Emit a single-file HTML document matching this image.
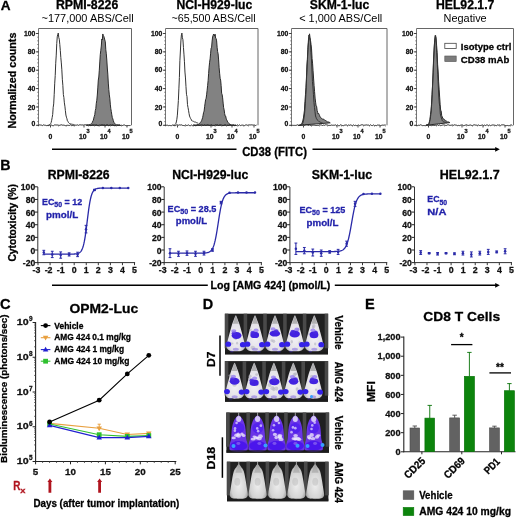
<!DOCTYPE html>
<html><head><meta charset="utf-8"><title>Figure</title>
<style>html,body{margin:0;padding:0;background:#fff;overflow:hidden;width:520px;height:518px;}svg{display:block;}text{font-family:'Liberation Sans', Arial, sans-serif;}</style>
</head><body>
<svg width="520" height="518" viewBox="0 0 520 518">
<rect x="0" y="0" width="520" height="518" fill="#fff"/>
<text x="0.7" y="10.3" font-size="13" font-weight="bold" fill="#000" text-anchor="start" textLength="9.8" lengthAdjust="spacingAndGlyphs" stroke="#000" stroke-width="0.28" >A</text>
<text x="0.3" y="169.5" font-size="14.2" font-weight="bold" fill="#000" text-anchor="start" textLength="10.3" lengthAdjust="spacingAndGlyphs" stroke="#000" stroke-width="0.28" >B</text>
<text x="0.1" y="308.7" font-size="14.4" font-weight="bold" fill="#000" text-anchor="start" textLength="10.6" lengthAdjust="spacingAndGlyphs" stroke="#000" stroke-width="0.28" >C</text>
<text x="202.8" y="308.5" font-size="14.2" font-weight="bold" fill="#000" text-anchor="start" textLength="10.4" lengthAdjust="spacingAndGlyphs" stroke="#000" stroke-width="0.28" >D</text>
<text x="364.9" y="308.7" font-size="14.4" font-weight="bold" fill="#000" text-anchor="start" textLength="9.7" lengthAdjust="spacingAndGlyphs" stroke="#000" stroke-width="0.28" >E</text>
<text x="55.9" y="8.9" font-size="12" font-weight="bold" fill="#000" text-anchor="start" textLength="62.4" lengthAdjust="spacingAndGlyphs" stroke="#000" stroke-width="0.28" >RPMI-8226</text>
<text x="41.5" y="22.4" font-size="11" font-weight="normal" fill="#000" text-anchor="start" textLength="92.2" lengthAdjust="spacingAndGlyphs" >~177,000 ABS/Cell</text>
<text x="176.5" y="8.9" font-size="12" font-weight="bold" fill="#000" text-anchor="start" textLength="75.8" lengthAdjust="spacingAndGlyphs" stroke="#000" stroke-width="0.28" >NCI-H929-luc</text>
<text x="171.5" y="22.4" font-size="11" font-weight="normal" fill="#000" text-anchor="start" textLength="84.1" lengthAdjust="spacingAndGlyphs" >~65,500 ABS/Cell</text>
<text x="309.8" y="8.9" font-size="12" font-weight="bold" fill="#000" text-anchor="start" textLength="59.4" lengthAdjust="spacingAndGlyphs" stroke="#000" stroke-width="0.28" >SKM-1-luc</text>
<text x="299.20000000000005" y="22.4" font-size="11" font-weight="normal" fill="#000" text-anchor="start" textLength="83.1" lengthAdjust="spacingAndGlyphs" >&lt; 1,000 ABS/Cell</text>
<text x="435.90000000000003" y="8.9" font-size="12" font-weight="bold" fill="#000" text-anchor="start" textLength="58.5" lengthAdjust="spacingAndGlyphs" stroke="#000" stroke-width="0.28" >HEL92.1.7</text>
<text x="443.6" y="22.4" font-size="11" font-weight="normal" fill="#000" text-anchor="start" textLength="43.099999999999994" lengthAdjust="spacingAndGlyphs" >Negative</text>
<polyline points="38.5,28.5 131.5,28.5 131.5,125.3" fill="none" stroke="#666" stroke-width="1"/>
<line x1="38.5" y1="28.5" x2="38.5" y2="126.3" stroke="#777" stroke-width="1" />
<line x1="37.2" y1="125.3" x2="38.5" y2="125.3" stroke="#555" stroke-width="0.7" />
<line x1="37.2" y1="121.628" x2="38.5" y2="121.628" stroke="#555" stroke-width="0.7" />
<line x1="37.2" y1="117.956" x2="38.5" y2="117.956" stroke="#555" stroke-width="0.7" />
<line x1="37.2" y1="114.28399999999999" x2="38.5" y2="114.28399999999999" stroke="#555" stroke-width="0.7" />
<line x1="37.2" y1="110.612" x2="38.5" y2="110.612" stroke="#555" stroke-width="0.7" />
<line x1="37.2" y1="106.94" x2="38.5" y2="106.94" stroke="#555" stroke-width="0.7" />
<line x1="37.2" y1="103.268" x2="38.5" y2="103.268" stroke="#555" stroke-width="0.7" />
<line x1="37.2" y1="99.596" x2="38.5" y2="99.596" stroke="#555" stroke-width="0.7" />
<line x1="37.2" y1="95.924" x2="38.5" y2="95.924" stroke="#555" stroke-width="0.7" />
<line x1="37.2" y1="92.25200000000001" x2="38.5" y2="92.25200000000001" stroke="#555" stroke-width="0.7" />
<line x1="37.2" y1="88.58" x2="38.5" y2="88.58" stroke="#555" stroke-width="0.7" />
<line x1="37.2" y1="84.908" x2="38.5" y2="84.908" stroke="#555" stroke-width="0.7" />
<line x1="37.2" y1="81.236" x2="38.5" y2="81.236" stroke="#555" stroke-width="0.7" />
<line x1="37.2" y1="77.564" x2="38.5" y2="77.564" stroke="#555" stroke-width="0.7" />
<line x1="37.2" y1="73.892" x2="38.5" y2="73.892" stroke="#555" stroke-width="0.7" />
<line x1="37.2" y1="70.22" x2="38.5" y2="70.22" stroke="#555" stroke-width="0.7" />
<line x1="37.2" y1="66.548" x2="38.5" y2="66.548" stroke="#555" stroke-width="0.7" />
<line x1="37.2" y1="62.876" x2="38.5" y2="62.876" stroke="#555" stroke-width="0.7" />
<line x1="37.2" y1="59.20400000000001" x2="38.5" y2="59.20400000000001" stroke="#555" stroke-width="0.7" />
<line x1="37.2" y1="55.532" x2="38.5" y2="55.532" stroke="#555" stroke-width="0.7" />
<line x1="37.2" y1="51.86" x2="38.5" y2="51.86" stroke="#555" stroke-width="0.7" />
<line x1="37.2" y1="48.188" x2="38.5" y2="48.188" stroke="#555" stroke-width="0.7" />
<line x1="37.2" y1="44.516000000000005" x2="38.5" y2="44.516000000000005" stroke="#555" stroke-width="0.7" />
<line x1="37.2" y1="40.843999999999994" x2="38.5" y2="40.843999999999994" stroke="#555" stroke-width="0.7" />
<line x1="37.2" y1="37.17200000000001" x2="38.5" y2="37.17200000000001" stroke="#555" stroke-width="0.7" />
<line x1="37.2" y1="33.5" x2="38.5" y2="33.5" stroke="#555" stroke-width="0.7" />
<line x1="35.9" y1="125.3" x2="38.5" y2="125.3" stroke="#333" stroke-width="0.9" />
<text x="35.3" y="125.5" font-size="6.8" font-weight="bold" fill="#111" text-anchor="end" stroke="#111" stroke-width="0.28" >0</text>
<line x1="35.9" y1="106.94" x2="38.5" y2="106.94" stroke="#333" stroke-width="0.9" />
<text x="35.3" y="109.9" font-size="6.8" font-weight="bold" fill="#111" text-anchor="end" stroke="#111" stroke-width="0.28" >20</text>
<line x1="35.9" y1="88.58" x2="38.5" y2="88.58" stroke="#333" stroke-width="0.9" />
<text x="35.3" y="91.10000000000001" font-size="6.8" font-weight="bold" fill="#111" text-anchor="end" stroke="#111" stroke-width="0.28" >40</text>
<line x1="35.9" y1="70.22" x2="38.5" y2="70.22" stroke="#333" stroke-width="0.9" />
<text x="35.3" y="71.9" font-size="6.8" font-weight="bold" fill="#111" text-anchor="end" stroke="#111" stroke-width="0.28" >60</text>
<line x1="35.9" y1="51.86" x2="38.5" y2="51.86" stroke="#333" stroke-width="0.9" />
<text x="35.3" y="53.9" font-size="6.8" font-weight="bold" fill="#111" text-anchor="end" stroke="#111" stroke-width="0.28" >80</text>
<line x1="35.9" y1="33.5" x2="38.5" y2="33.5" stroke="#333" stroke-width="0.9" />
<text x="35.3" y="36.0" font-size="6.8" font-weight="bold" fill="#111" text-anchor="end" stroke="#111" stroke-width="0.28" >100</text>
<polygon points="86.30,125.27 86.80,125.25 87.30,125.22 87.80,125.18 88.30,125.12 88.80,125.04 89.30,124.91 89.80,124.73 90.30,124.48 90.80,124.14 91.30,123.68 91.80,123.14 92.30,122.46 92.80,121.07 93.30,120.31 93.80,118.11 94.30,116.33 94.80,114.60 95.30,110.53 95.80,108.70 96.30,103.23 96.80,100.28 97.30,95.04 97.80,87.90 98.30,80.06 98.80,77.02 99.30,70.17 99.80,61.95 100.30,54.35 100.80,50.32 101.30,46.04 101.80,39.06 102.30,39.97 102.80,33.97 103.30,35.48 103.80,36.31 104.30,37.97 104.80,39.97 105.30,41.72 105.80,49.73 106.30,53.79 106.80,60.00 107.30,68.01 107.80,74.08 108.30,83.07 108.80,89.54 109.30,94.89 109.80,98.18 110.30,104.19 110.80,108.75 111.30,111.49 111.80,114.84 112.30,117.54 112.80,118.85 113.30,120.60 113.80,122.17 114.30,122.89 114.80,123.62 115.30,124.13 115.80,124.50 116.30,124.76 116.80,124.94 117.30,125.06 117.80,125.15 118.30,125.20 118.80,125.24 119.30,125.26 119.80,125.28 120.30,125.29" fill="#828282" stroke="#2a2a2a" stroke-width="1.0"/>
<polyline points="47.60,125.27 48.11,125.23 48.62,125.17 49.12,125.03 49.63,124.79 50.14,124.36 50.65,123.63 51.16,122.44 51.67,120.27 52.17,117.57 52.68,114.55 53.19,107.29 53.70,103.91 54.21,94.30 54.72,83.18 55.22,75.49 55.73,63.21 56.24,55.12 56.75,43.57 57.26,36.83 57.77,34.45 58.27,33.07 58.78,37.56 59.29,39.23 59.80,44.44 60.31,50.34 60.82,57.55 61.32,62.93 61.83,69.80 62.34,79.23 62.85,85.32 63.36,94.55 63.87,97.43 64.37,102.84 64.88,106.16 65.39,110.67 65.90,115.03 66.41,117.17 66.92,118.66 67.42,120.81 67.93,121.47 68.44,122.47 68.95,123.06 69.46,123.49 69.97,123.63 70.47,123.87 70.98,124.04 71.49,124.17 72.00,124.27 72.51,124.35 73.02,124.42 73.52,124.48 74.03,124.53 74.54,124.57" fill="none" stroke="#333" stroke-width="1.0"/>
<polyline points="38.50,125.49 39.50,124.92 40.50,125.02 41.50,125.15 42.50,125.58 43.50,124.87 44.50,125.20 45.50,125.29 46.50,125.60 47.50,125.54 48.50,125.58 49.50,125.05 50.50,125.17 51.50,125.12 52.50,125.60 53.50,125.66 54.50,124.94 55.50,124.96 56.50,125.01 57.50,125.01 58.50,125.24 59.50,125.33 60.50,125.04 61.50,124.80 62.50,125.18 63.50,125.13 64.50,125.31 65.50,125.66 66.50,125.42 67.50,125.26 68.50,125.36 69.50,125.41 70.50,124.85 71.50,125.61 72.50,125.50 73.50,125.59 74.50,125.52 75.50,125.15 76.50,125.16 77.50,124.89 78.50,125.37 79.50,124.86 80.50,124.86 81.50,124.99 82.50,124.95 83.50,125.11 84.50,124.85 85.50,124.80 86.50,124.94 87.50,124.89 88.50,125.13 89.50,124.82 90.50,125.59 91.50,125.35 92.50,124.93 93.50,125.03 94.50,125.11 95.50,125.13 96.50,124.91 97.50,125.56 98.50,125.69 99.50,125.22 100.50,125.24 101.50,124.88 102.50,124.89 103.50,125.11 104.50,125.04 105.50,125.55 106.50,124.95 107.50,124.82 108.50,125.66 109.50,125.28 110.50,124.93 111.50,125.29 112.50,124.82 113.50,125.28 114.50,125.68 115.50,125.58 116.50,125.43 117.50,125.04 118.50,125.13 119.50,124.95 120.50,125.49 121.50,125.28 122.50,125.50 123.50,125.10 124.50,125.00 125.50,125.53 126.50,125.69 127.50,125.57 128.50,125.53 129.50,125.54 130.50,125.47" fill="none" stroke="#222" stroke-width="1"/>
<line x1="50.5" y1="125.3" x2="50.5" y2="127.5" stroke="#333" stroke-width="0.9" />
<line x1="84.0" y1="125.3" x2="84.0" y2="127.5" stroke="#333" stroke-width="0.9" />
<line x1="105.0" y1="125.3" x2="105.0" y2="127.5" stroke="#333" stroke-width="0.9" />
<line x1="127.0" y1="125.3" x2="127.0" y2="127.5" stroke="#333" stroke-width="0.9" />
<line x1="58.5" y1="125.3" x2="58.5" y2="126.5" stroke="#666" stroke-width="0.7" />
<line x1="66.5" y1="125.3" x2="66.5" y2="126.5" stroke="#666" stroke-width="0.7" />
<line x1="74.5" y1="125.3" x2="74.5" y2="126.5" stroke="#666" stroke-width="0.7" />
<line x1="88.5" y1="125.3" x2="88.5" y2="126.5" stroke="#666" stroke-width="0.7" />
<line x1="94.5" y1="125.3" x2="94.5" y2="126.5" stroke="#666" stroke-width="0.7" />
<line x1="99.5" y1="125.3" x2="99.5" y2="126.5" stroke="#666" stroke-width="0.7" />
<line x1="110.5" y1="125.3" x2="110.5" y2="126.5" stroke="#666" stroke-width="0.7" />
<line x1="116.5" y1="125.3" x2="116.5" y2="126.5" stroke="#666" stroke-width="0.7" />
<line x1="121.5" y1="125.3" x2="121.5" y2="126.5" stroke="#666" stroke-width="0.7" />
<text x="50.5" y="138.6" font-size="6.8" font-weight="bold" fill="#111" text-anchor="middle" stroke="#111" stroke-width="0.28" >0</text>
<text x="79.1" y="139.2" font-size="6.8" font-weight="bold" fill="#111" text-anchor="start" stroke="#111" stroke-width="0.28" >10</text>
<text x="86.5" y="133.0" font-size="5.6" font-weight="bold" fill="#111" text-anchor="start" stroke="#111" stroke-width="0.28" >3</text>
<text x="100.1" y="139.2" font-size="6.8" font-weight="bold" fill="#111" text-anchor="start" stroke="#111" stroke-width="0.28" >10</text>
<text x="107.5" y="133.0" font-size="5.6" font-weight="bold" fill="#111" text-anchor="start" stroke="#111" stroke-width="0.28" >4</text>
<text x="122.1" y="139.2" font-size="6.8" font-weight="bold" fill="#111" text-anchor="start" stroke="#111" stroke-width="0.28" >10</text>
<text x="129.5" y="133.0" font-size="5.6" font-weight="bold" fill="#111" text-anchor="start" stroke="#111" stroke-width="0.28" >5</text>
<polyline points="165.5,28.5 258.0,28.5 258.0,125.3" fill="none" stroke="#666" stroke-width="1"/>
<line x1="165.5" y1="28.5" x2="165.5" y2="126.3" stroke="#777" stroke-width="1" />
<line x1="164.2" y1="125.3" x2="165.5" y2="125.3" stroke="#555" stroke-width="0.7" />
<line x1="164.2" y1="121.628" x2="165.5" y2="121.628" stroke="#555" stroke-width="0.7" />
<line x1="164.2" y1="117.956" x2="165.5" y2="117.956" stroke="#555" stroke-width="0.7" />
<line x1="164.2" y1="114.28399999999999" x2="165.5" y2="114.28399999999999" stroke="#555" stroke-width="0.7" />
<line x1="164.2" y1="110.612" x2="165.5" y2="110.612" stroke="#555" stroke-width="0.7" />
<line x1="164.2" y1="106.94" x2="165.5" y2="106.94" stroke="#555" stroke-width="0.7" />
<line x1="164.2" y1="103.268" x2="165.5" y2="103.268" stroke="#555" stroke-width="0.7" />
<line x1="164.2" y1="99.596" x2="165.5" y2="99.596" stroke="#555" stroke-width="0.7" />
<line x1="164.2" y1="95.924" x2="165.5" y2="95.924" stroke="#555" stroke-width="0.7" />
<line x1="164.2" y1="92.25200000000001" x2="165.5" y2="92.25200000000001" stroke="#555" stroke-width="0.7" />
<line x1="164.2" y1="88.58" x2="165.5" y2="88.58" stroke="#555" stroke-width="0.7" />
<line x1="164.2" y1="84.908" x2="165.5" y2="84.908" stroke="#555" stroke-width="0.7" />
<line x1="164.2" y1="81.236" x2="165.5" y2="81.236" stroke="#555" stroke-width="0.7" />
<line x1="164.2" y1="77.564" x2="165.5" y2="77.564" stroke="#555" stroke-width="0.7" />
<line x1="164.2" y1="73.892" x2="165.5" y2="73.892" stroke="#555" stroke-width="0.7" />
<line x1="164.2" y1="70.22" x2="165.5" y2="70.22" stroke="#555" stroke-width="0.7" />
<line x1="164.2" y1="66.548" x2="165.5" y2="66.548" stroke="#555" stroke-width="0.7" />
<line x1="164.2" y1="62.876" x2="165.5" y2="62.876" stroke="#555" stroke-width="0.7" />
<line x1="164.2" y1="59.20400000000001" x2="165.5" y2="59.20400000000001" stroke="#555" stroke-width="0.7" />
<line x1="164.2" y1="55.532" x2="165.5" y2="55.532" stroke="#555" stroke-width="0.7" />
<line x1="164.2" y1="51.86" x2="165.5" y2="51.86" stroke="#555" stroke-width="0.7" />
<line x1="164.2" y1="48.188" x2="165.5" y2="48.188" stroke="#555" stroke-width="0.7" />
<line x1="164.2" y1="44.516000000000005" x2="165.5" y2="44.516000000000005" stroke="#555" stroke-width="0.7" />
<line x1="164.2" y1="40.843999999999994" x2="165.5" y2="40.843999999999994" stroke="#555" stroke-width="0.7" />
<line x1="164.2" y1="37.17200000000001" x2="165.5" y2="37.17200000000001" stroke="#555" stroke-width="0.7" />
<line x1="164.2" y1="33.5" x2="165.5" y2="33.5" stroke="#555" stroke-width="0.7" />
<line x1="162.9" y1="125.3" x2="165.5" y2="125.3" stroke="#333" stroke-width="0.9" />
<text x="162.3" y="125.5" font-size="6.8" font-weight="bold" fill="#111" text-anchor="end" stroke="#111" stroke-width="0.28" >0</text>
<line x1="162.9" y1="106.94" x2="165.5" y2="106.94" stroke="#333" stroke-width="0.9" />
<text x="162.3" y="109.9" font-size="6.8" font-weight="bold" fill="#111" text-anchor="end" stroke="#111" stroke-width="0.28" >20</text>
<line x1="162.9" y1="88.58" x2="165.5" y2="88.58" stroke="#333" stroke-width="0.9" />
<text x="162.3" y="91.10000000000001" font-size="6.8" font-weight="bold" fill="#111" text-anchor="end" stroke="#111" stroke-width="0.28" >40</text>
<line x1="162.9" y1="70.22" x2="165.5" y2="70.22" stroke="#333" stroke-width="0.9" />
<text x="162.3" y="71.9" font-size="6.8" font-weight="bold" fill="#111" text-anchor="end" stroke="#111" stroke-width="0.28" >60</text>
<line x1="162.9" y1="51.86" x2="165.5" y2="51.86" stroke="#333" stroke-width="0.9" />
<text x="162.3" y="53.9" font-size="6.8" font-weight="bold" fill="#111" text-anchor="end" stroke="#111" stroke-width="0.28" >80</text>
<line x1="162.9" y1="33.5" x2="165.5" y2="33.5" stroke="#333" stroke-width="0.9" />
<text x="162.3" y="36.0" font-size="6.8" font-weight="bold" fill="#111" text-anchor="end" stroke="#111" stroke-width="0.28" >100</text>
<polygon points="193.10,125.27 193.60,125.26 194.10,125.24 194.60,125.21 195.10,125.17 195.60,125.12 196.10,125.05 196.60,124.96 197.10,124.83 197.60,124.66 198.10,124.45 198.61,124.17 199.11,123.81 199.61,123.46 200.11,122.77 200.61,122.16 201.11,121.58 201.61,120.62 202.11,119.14 202.61,117.71 203.11,115.14 203.61,112.33 204.11,111.14 204.61,106.72 205.11,103.11 205.61,99.50 206.11,98.37 206.61,94.84 207.11,90.31 207.61,85.69 208.11,80.67 208.61,73.61 209.11,67.15 209.62,62.24 210.12,58.85 210.62,53.22 211.12,48.04 211.62,47.25 212.12,41.07 212.62,37.00 213.12,35.35 213.62,34.02 214.12,34.57 214.62,36.07 215.12,34.22 215.62,38.07 216.12,38.44 216.62,40.88 217.12,47.34 217.62,51.65 218.12,53.89 218.62,59.95 219.12,67.72 219.62,73.21 220.13,78.37 220.63,80.08 221.13,85.50 221.63,93.24 222.13,94.53 222.63,97.88 223.13,103.11 223.63,107.66 224.13,109.92 224.63,113.60 225.13,115.92 225.63,116.04 226.13,118.26 226.63,119.81 227.13,120.60 227.63,121.95 228.13,122.46 228.63,123.13 229.13,123.75 229.63,124.12 230.13,124.42 230.63,124.65 231.14,124.82 231.64,124.95 232.14,125.05 232.64,125.12 233.14,125.17 233.64,125.21 234.14,125.24 234.64,125.26 235.14,125.27 235.64,125.28 236.14,125.29" fill="#828282" stroke="#2a2a2a" stroke-width="1.0"/>
<polyline points="173.30,125.27 173.81,125.22 174.31,125.11 174.82,124.88 175.33,124.39 175.83,123.57 176.34,121.97 176.85,119.26 177.36,115.16 177.86,107.89 178.37,100.57 178.88,88.87 179.38,77.54 179.89,60.73 180.40,51.00 180.90,40.91 181.41,34.89 181.92,33.07 182.42,37.79 182.93,39.76 183.44,47.41 183.95,54.14 184.45,61.79 184.96,72.04 185.47,77.96 185.97,86.61 186.48,94.25 186.99,96.62 187.49,104.60 188.00,107.51 188.51,110.22 189.02,113.46 189.52,116.02 190.03,117.26 190.54,118.41 191.04,119.05 191.55,120.47 192.06,120.52 192.56,121.20 193.07,121.48 193.58,121.38 194.08,121.81 194.59,121.98 195.10,122.05 195.61,122.15 196.11,122.58 196.62,122.64 197.13,122.84 197.63,122.97 198.14,123.02" fill="none" stroke="#333" stroke-width="1.0"/>
<polyline points="165.50,125.21 166.50,125.28 167.50,125.23 168.50,125.65 169.50,125.43 170.50,125.59 171.50,125.65 172.50,125.03 173.50,125.30 174.50,125.65 175.50,125.56 176.50,124.92 177.50,124.91 178.50,125.20 179.50,124.87 180.50,125.02 181.50,124.87 182.50,125.40 183.50,125.51 184.50,125.61 185.50,124.94 186.50,125.44 187.50,125.39 188.50,124.93 189.50,125.59 190.50,125.67 191.50,125.00 192.50,125.66 193.50,125.16 194.50,125.24 195.50,125.69 196.50,125.55 197.50,124.95 198.50,125.19 199.50,125.26 200.50,125.11 201.50,124.98 202.50,125.09 203.50,125.45 204.50,124.82 205.50,125.30 206.50,125.20 207.50,124.82 208.50,125.10 209.50,125.36 210.50,125.26 211.50,124.86 212.50,125.69 213.50,125.51 214.50,125.67 215.50,124.89 216.50,125.04 217.50,124.84 218.50,125.50 219.50,125.04 220.50,124.92 221.50,125.18 222.50,125.62 223.50,125.54 224.50,125.03 225.50,124.93 226.50,125.63 227.50,125.31 228.50,125.43 229.50,124.88 230.50,124.85 231.50,125.42 232.50,125.18 233.50,124.87 234.50,125.64 235.50,125.37 236.50,125.52 237.50,124.88 238.50,125.57 239.50,124.86 240.50,125.58 241.50,125.21 242.50,125.11 243.50,125.30 244.50,125.63 245.50,125.04 246.50,124.92 247.50,125.27 248.50,125.01 249.50,124.90 250.50,124.95 251.50,124.85 252.50,124.98 253.50,125.08 254.50,125.07 255.50,125.48 256.50,125.06" fill="none" stroke="#222" stroke-width="1"/>
<line x1="177.5" y1="125.3" x2="177.5" y2="127.5" stroke="#333" stroke-width="0.9" />
<line x1="211.0" y1="125.3" x2="211.0" y2="127.5" stroke="#333" stroke-width="0.9" />
<line x1="232.0" y1="125.3" x2="232.0" y2="127.5" stroke="#333" stroke-width="0.9" />
<line x1="254.0" y1="125.3" x2="254.0" y2="127.5" stroke="#333" stroke-width="0.9" />
<line x1="185.5" y1="125.3" x2="185.5" y2="126.5" stroke="#666" stroke-width="0.7" />
<line x1="193.5" y1="125.3" x2="193.5" y2="126.5" stroke="#666" stroke-width="0.7" />
<line x1="201.5" y1="125.3" x2="201.5" y2="126.5" stroke="#666" stroke-width="0.7" />
<line x1="215.5" y1="125.3" x2="215.5" y2="126.5" stroke="#666" stroke-width="0.7" />
<line x1="221.5" y1="125.3" x2="221.5" y2="126.5" stroke="#666" stroke-width="0.7" />
<line x1="226.5" y1="125.3" x2="226.5" y2="126.5" stroke="#666" stroke-width="0.7" />
<line x1="237.5" y1="125.3" x2="237.5" y2="126.5" stroke="#666" stroke-width="0.7" />
<line x1="243.5" y1="125.3" x2="243.5" y2="126.5" stroke="#666" stroke-width="0.7" />
<line x1="248.5" y1="125.3" x2="248.5" y2="126.5" stroke="#666" stroke-width="0.7" />
<text x="177.5" y="138.6" font-size="6.8" font-weight="bold" fill="#111" text-anchor="middle" stroke="#111" stroke-width="0.28" >0</text>
<text x="206.1" y="139.2" font-size="6.8" font-weight="bold" fill="#111" text-anchor="start" stroke="#111" stroke-width="0.28" >10</text>
<text x="213.5" y="133.0" font-size="5.6" font-weight="bold" fill="#111" text-anchor="start" stroke="#111" stroke-width="0.28" >3</text>
<text x="227.1" y="139.2" font-size="6.8" font-weight="bold" fill="#111" text-anchor="start" stroke="#111" stroke-width="0.28" >10</text>
<text x="234.5" y="133.0" font-size="5.6" font-weight="bold" fill="#111" text-anchor="start" stroke="#111" stroke-width="0.28" >4</text>
<text x="249.1" y="139.2" font-size="6.8" font-weight="bold" fill="#111" text-anchor="start" stroke="#111" stroke-width="0.28" >10</text>
<text x="256.5" y="133.0" font-size="5.6" font-weight="bold" fill="#111" text-anchor="start" stroke="#111" stroke-width="0.28" >5</text>
<polyline points="291.5,28.5 387.0,28.5 387.0,125.3" fill="none" stroke="#666" stroke-width="1"/>
<line x1="291.5" y1="28.5" x2="291.5" y2="126.3" stroke="#777" stroke-width="1" />
<line x1="290.2" y1="125.3" x2="291.5" y2="125.3" stroke="#555" stroke-width="0.7" />
<line x1="290.2" y1="121.628" x2="291.5" y2="121.628" stroke="#555" stroke-width="0.7" />
<line x1="290.2" y1="117.956" x2="291.5" y2="117.956" stroke="#555" stroke-width="0.7" />
<line x1="290.2" y1="114.28399999999999" x2="291.5" y2="114.28399999999999" stroke="#555" stroke-width="0.7" />
<line x1="290.2" y1="110.612" x2="291.5" y2="110.612" stroke="#555" stroke-width="0.7" />
<line x1="290.2" y1="106.94" x2="291.5" y2="106.94" stroke="#555" stroke-width="0.7" />
<line x1="290.2" y1="103.268" x2="291.5" y2="103.268" stroke="#555" stroke-width="0.7" />
<line x1="290.2" y1="99.596" x2="291.5" y2="99.596" stroke="#555" stroke-width="0.7" />
<line x1="290.2" y1="95.924" x2="291.5" y2="95.924" stroke="#555" stroke-width="0.7" />
<line x1="290.2" y1="92.25200000000001" x2="291.5" y2="92.25200000000001" stroke="#555" stroke-width="0.7" />
<line x1="290.2" y1="88.58" x2="291.5" y2="88.58" stroke="#555" stroke-width="0.7" />
<line x1="290.2" y1="84.908" x2="291.5" y2="84.908" stroke="#555" stroke-width="0.7" />
<line x1="290.2" y1="81.236" x2="291.5" y2="81.236" stroke="#555" stroke-width="0.7" />
<line x1="290.2" y1="77.564" x2="291.5" y2="77.564" stroke="#555" stroke-width="0.7" />
<line x1="290.2" y1="73.892" x2="291.5" y2="73.892" stroke="#555" stroke-width="0.7" />
<line x1="290.2" y1="70.22" x2="291.5" y2="70.22" stroke="#555" stroke-width="0.7" />
<line x1="290.2" y1="66.548" x2="291.5" y2="66.548" stroke="#555" stroke-width="0.7" />
<line x1="290.2" y1="62.876" x2="291.5" y2="62.876" stroke="#555" stroke-width="0.7" />
<line x1="290.2" y1="59.20400000000001" x2="291.5" y2="59.20400000000001" stroke="#555" stroke-width="0.7" />
<line x1="290.2" y1="55.532" x2="291.5" y2="55.532" stroke="#555" stroke-width="0.7" />
<line x1="290.2" y1="51.86" x2="291.5" y2="51.86" stroke="#555" stroke-width="0.7" />
<line x1="290.2" y1="48.188" x2="291.5" y2="48.188" stroke="#555" stroke-width="0.7" />
<line x1="290.2" y1="44.516000000000005" x2="291.5" y2="44.516000000000005" stroke="#555" stroke-width="0.7" />
<line x1="290.2" y1="40.843999999999994" x2="291.5" y2="40.843999999999994" stroke="#555" stroke-width="0.7" />
<line x1="290.2" y1="37.17200000000001" x2="291.5" y2="37.17200000000001" stroke="#555" stroke-width="0.7" />
<line x1="290.2" y1="33.5" x2="291.5" y2="33.5" stroke="#555" stroke-width="0.7" />
<line x1="288.9" y1="125.3" x2="291.5" y2="125.3" stroke="#333" stroke-width="0.9" />
<text x="288.3" y="125.5" font-size="6.8" font-weight="bold" fill="#111" text-anchor="end" stroke="#111" stroke-width="0.28" >0</text>
<line x1="288.9" y1="106.94" x2="291.5" y2="106.94" stroke="#333" stroke-width="0.9" />
<text x="288.3" y="109.9" font-size="6.8" font-weight="bold" fill="#111" text-anchor="end" stroke="#111" stroke-width="0.28" >20</text>
<line x1="288.9" y1="88.58" x2="291.5" y2="88.58" stroke="#333" stroke-width="0.9" />
<text x="288.3" y="91.10000000000001" font-size="6.8" font-weight="bold" fill="#111" text-anchor="end" stroke="#111" stroke-width="0.28" >40</text>
<line x1="288.9" y1="70.22" x2="291.5" y2="70.22" stroke="#333" stroke-width="0.9" />
<text x="288.3" y="71.9" font-size="6.8" font-weight="bold" fill="#111" text-anchor="end" stroke="#111" stroke-width="0.28" >60</text>
<line x1="288.9" y1="51.86" x2="291.5" y2="51.86" stroke="#333" stroke-width="0.9" />
<text x="288.3" y="53.9" font-size="6.8" font-weight="bold" fill="#111" text-anchor="end" stroke="#111" stroke-width="0.28" >80</text>
<line x1="288.9" y1="33.5" x2="291.5" y2="33.5" stroke="#333" stroke-width="0.9" />
<text x="288.3" y="36.0" font-size="6.8" font-weight="bold" fill="#111" text-anchor="end" stroke="#111" stroke-width="0.28" >100</text>
<polygon points="298.40,125.27 298.91,125.24 299.41,125.18 299.92,125.07 300.42,124.88 300.93,124.56 301.43,124.02 301.94,123.17 302.44,122.09 302.95,120.11 303.45,117.99 303.96,114.06 304.46,110.19 304.97,101.30 305.48,94.66 305.98,87.70 306.49,76.94 306.99,65.01 307.50,59.25 308.00,47.38 308.51,42.24 309.01,37.31 309.52,33.84 310.02,37.62 310.53,40.56 311.03,44.48 311.54,48.93 312.05,58.43 312.55,63.17 313.06,70.83 313.56,78.04 314.07,85.54 314.57,91.64 315.08,98.11 315.58,102.15 316.09,105.94 316.59,106.24 317.10,110.30 317.61,112.39 318.11,114.01 318.62,113.44 319.12,114.43 319.63,115.66 320.13,117.02 320.64,117.64 321.14,118.03 321.65,118.23 322.15,119.04 322.66,119.03 323.16,119.60 323.67,119.12 324.18,119.45 324.68,120.20 325.19,120.77 325.69,120.36 326.20,121.19 326.70,121.38 327.21,121.87 327.71,121.78 328.22,121.91 328.72,122.07 329.23,122.43 329.73,122.42 330.24,122.85" fill="#828282" stroke="#2a2a2a" stroke-width="1.0"/>
<polyline points="299.70,125.27 300.21,125.23 300.72,125.15 301.23,124.99 301.74,124.67 302.25,124.10 302.76,123.22 303.27,121.80 303.77,119.07 304.28,116.10 304.79,111.34 305.30,103.71 305.81,95.24 306.32,83.26 306.83,72.18 307.34,59.70 307.85,49.63 308.36,41.01 308.87,35.04 309.38,35.97 309.89,38.81 310.40,41.08 310.91,52.45 311.41,58.86 311.92,69.00 312.43,81.47 312.94,86.89 313.45,94.57 313.96,102.43 314.47,107.47 314.98,111.46 315.49,115.94 316.00,117.27 316.51,118.75 317.02,119.38 317.53,120.15 318.04,120.65 318.55,121.23 319.05,121.29 319.56,121.69 320.07,121.90 320.58,122.38 321.09,122.66 321.60,122.75 322.11,122.77 322.62,123.04" fill="none" stroke="#333" stroke-width="1.0"/>
<polyline points="291.50,125.55 292.50,125.30 293.50,125.36 294.50,125.36 295.50,125.41 296.50,125.24 297.50,124.80 298.50,125.52 299.50,125.47 300.50,125.25 301.50,125.28 302.50,125.39 303.50,124.86 304.50,125.46 305.50,125.03 306.50,124.87 307.50,125.04 308.50,125.46 309.50,124.98 310.50,125.47 311.50,125.68 312.50,125.24 313.50,125.14 314.50,125.23 315.50,125.42 316.50,125.49 317.50,125.36 318.50,125.38 319.50,124.87 320.50,124.93 321.50,125.03 322.50,125.47 323.50,125.07 324.50,125.31 325.50,124.81 326.50,124.85 327.50,125.04 328.50,125.40 329.50,125.42 330.50,125.41 331.50,125.06 332.50,125.26 333.50,125.22 334.50,125.22 335.50,124.91 336.50,125.60 337.50,124.98 338.50,125.68 339.50,125.64 340.50,124.82 341.50,125.21 342.50,125.54 343.50,125.67 344.50,125.20 345.50,125.04 346.50,124.99 347.50,125.65 348.50,124.99 349.50,125.32 350.50,124.93 351.50,125.27 352.50,125.66 353.50,124.92 354.50,125.54 355.50,125.26 356.50,125.60 357.50,125.43 358.50,125.01 359.50,125.61 360.50,125.24 361.50,124.82 362.50,124.80 363.50,125.24 364.50,125.21 365.50,125.07 366.50,124.93 367.50,125.11 368.50,125.08 369.50,125.56 370.50,124.80 371.50,125.48 372.50,125.56 373.50,124.91 374.50,125.63 375.50,125.44 376.50,125.61 377.50,125.06 378.50,125.13 379.50,125.15 380.50,125.70 381.50,125.33 382.50,125.12 383.50,125.19 384.50,125.05 385.50,124.84" fill="none" stroke="#222" stroke-width="1"/>
<line x1="303.5" y1="125.3" x2="303.5" y2="127.5" stroke="#333" stroke-width="0.9" />
<line x1="337.0" y1="125.3" x2="337.0" y2="127.5" stroke="#333" stroke-width="0.9" />
<line x1="358.0" y1="125.3" x2="358.0" y2="127.5" stroke="#333" stroke-width="0.9" />
<line x1="380.0" y1="125.3" x2="380.0" y2="127.5" stroke="#333" stroke-width="0.9" />
<line x1="311.5" y1="125.3" x2="311.5" y2="126.5" stroke="#666" stroke-width="0.7" />
<line x1="319.5" y1="125.3" x2="319.5" y2="126.5" stroke="#666" stroke-width="0.7" />
<line x1="327.5" y1="125.3" x2="327.5" y2="126.5" stroke="#666" stroke-width="0.7" />
<line x1="341.5" y1="125.3" x2="341.5" y2="126.5" stroke="#666" stroke-width="0.7" />
<line x1="347.5" y1="125.3" x2="347.5" y2="126.5" stroke="#666" stroke-width="0.7" />
<line x1="352.5" y1="125.3" x2="352.5" y2="126.5" stroke="#666" stroke-width="0.7" />
<line x1="363.5" y1="125.3" x2="363.5" y2="126.5" stroke="#666" stroke-width="0.7" />
<line x1="369.5" y1="125.3" x2="369.5" y2="126.5" stroke="#666" stroke-width="0.7" />
<line x1="374.5" y1="125.3" x2="374.5" y2="126.5" stroke="#666" stroke-width="0.7" />
<line x1="385.5" y1="125.3" x2="385.5" y2="126.5" stroke="#666" stroke-width="0.7" />
<text x="303.5" y="138.6" font-size="6.8" font-weight="bold" fill="#111" text-anchor="middle" stroke="#111" stroke-width="0.28" >0</text>
<text x="332.1" y="139.2" font-size="6.8" font-weight="bold" fill="#111" text-anchor="start" stroke="#111" stroke-width="0.28" >10</text>
<text x="339.5" y="133.0" font-size="5.6" font-weight="bold" fill="#111" text-anchor="start" stroke="#111" stroke-width="0.28" >3</text>
<text x="353.1" y="139.2" font-size="6.8" font-weight="bold" fill="#111" text-anchor="start" stroke="#111" stroke-width="0.28" >10</text>
<text x="360.5" y="133.0" font-size="5.6" font-weight="bold" fill="#111" text-anchor="start" stroke="#111" stroke-width="0.28" >4</text>
<text x="375.1" y="139.2" font-size="6.8" font-weight="bold" fill="#111" text-anchor="start" stroke="#111" stroke-width="0.28" >10</text>
<text x="382.5" y="133.0" font-size="5.6" font-weight="bold" fill="#111" text-anchor="start" stroke="#111" stroke-width="0.28" >5</text>
<polyline points="416.5,28.5 513.5,28.5 513.5,125.3" fill="none" stroke="#666" stroke-width="1"/>
<line x1="416.5" y1="28.5" x2="416.5" y2="126.3" stroke="#777" stroke-width="1" />
<line x1="415.2" y1="125.3" x2="416.5" y2="125.3" stroke="#555" stroke-width="0.7" />
<line x1="415.2" y1="121.628" x2="416.5" y2="121.628" stroke="#555" stroke-width="0.7" />
<line x1="415.2" y1="117.956" x2="416.5" y2="117.956" stroke="#555" stroke-width="0.7" />
<line x1="415.2" y1="114.28399999999999" x2="416.5" y2="114.28399999999999" stroke="#555" stroke-width="0.7" />
<line x1="415.2" y1="110.612" x2="416.5" y2="110.612" stroke="#555" stroke-width="0.7" />
<line x1="415.2" y1="106.94" x2="416.5" y2="106.94" stroke="#555" stroke-width="0.7" />
<line x1="415.2" y1="103.268" x2="416.5" y2="103.268" stroke="#555" stroke-width="0.7" />
<line x1="415.2" y1="99.596" x2="416.5" y2="99.596" stroke="#555" stroke-width="0.7" />
<line x1="415.2" y1="95.924" x2="416.5" y2="95.924" stroke="#555" stroke-width="0.7" />
<line x1="415.2" y1="92.25200000000001" x2="416.5" y2="92.25200000000001" stroke="#555" stroke-width="0.7" />
<line x1="415.2" y1="88.58" x2="416.5" y2="88.58" stroke="#555" stroke-width="0.7" />
<line x1="415.2" y1="84.908" x2="416.5" y2="84.908" stroke="#555" stroke-width="0.7" />
<line x1="415.2" y1="81.236" x2="416.5" y2="81.236" stroke="#555" stroke-width="0.7" />
<line x1="415.2" y1="77.564" x2="416.5" y2="77.564" stroke="#555" stroke-width="0.7" />
<line x1="415.2" y1="73.892" x2="416.5" y2="73.892" stroke="#555" stroke-width="0.7" />
<line x1="415.2" y1="70.22" x2="416.5" y2="70.22" stroke="#555" stroke-width="0.7" />
<line x1="415.2" y1="66.548" x2="416.5" y2="66.548" stroke="#555" stroke-width="0.7" />
<line x1="415.2" y1="62.876" x2="416.5" y2="62.876" stroke="#555" stroke-width="0.7" />
<line x1="415.2" y1="59.20400000000001" x2="416.5" y2="59.20400000000001" stroke="#555" stroke-width="0.7" />
<line x1="415.2" y1="55.532" x2="416.5" y2="55.532" stroke="#555" stroke-width="0.7" />
<line x1="415.2" y1="51.86" x2="416.5" y2="51.86" stroke="#555" stroke-width="0.7" />
<line x1="415.2" y1="48.188" x2="416.5" y2="48.188" stroke="#555" stroke-width="0.7" />
<line x1="415.2" y1="44.516000000000005" x2="416.5" y2="44.516000000000005" stroke="#555" stroke-width="0.7" />
<line x1="415.2" y1="40.843999999999994" x2="416.5" y2="40.843999999999994" stroke="#555" stroke-width="0.7" />
<line x1="415.2" y1="37.17200000000001" x2="416.5" y2="37.17200000000001" stroke="#555" stroke-width="0.7" />
<line x1="415.2" y1="33.5" x2="416.5" y2="33.5" stroke="#555" stroke-width="0.7" />
<line x1="413.9" y1="125.3" x2="416.5" y2="125.3" stroke="#333" stroke-width="0.9" />
<text x="413.3" y="125.5" font-size="6.8" font-weight="bold" fill="#111" text-anchor="end" stroke="#111" stroke-width="0.28" >0</text>
<line x1="413.9" y1="106.94" x2="416.5" y2="106.94" stroke="#333" stroke-width="0.9" />
<text x="413.3" y="109.9" font-size="6.8" font-weight="bold" fill="#111" text-anchor="end" stroke="#111" stroke-width="0.28" >20</text>
<line x1="413.9" y1="88.58" x2="416.5" y2="88.58" stroke="#333" stroke-width="0.9" />
<text x="413.3" y="91.10000000000001" font-size="6.8" font-weight="bold" fill="#111" text-anchor="end" stroke="#111" stroke-width="0.28" >40</text>
<line x1="413.9" y1="70.22" x2="416.5" y2="70.22" stroke="#333" stroke-width="0.9" />
<text x="413.3" y="71.9" font-size="6.8" font-weight="bold" fill="#111" text-anchor="end" stroke="#111" stroke-width="0.28" >60</text>
<line x1="413.9" y1="51.86" x2="416.5" y2="51.86" stroke="#333" stroke-width="0.9" />
<text x="413.3" y="53.9" font-size="6.8" font-weight="bold" fill="#111" text-anchor="end" stroke="#111" stroke-width="0.28" >80</text>
<line x1="413.9" y1="33.5" x2="416.5" y2="33.5" stroke="#333" stroke-width="0.9" />
<text x="413.3" y="36.0" font-size="6.8" font-weight="bold" fill="#111" text-anchor="end" stroke="#111" stroke-width="0.28" >100</text>
<polygon points="425.90,125.27 426.41,125.23 426.92,125.15 427.43,124.99 427.94,124.68 428.45,124.13 428.96,123.33 429.47,121.31 429.97,119.34 430.48,114.51 430.99,110.94 431.50,104.31 432.01,94.59 432.52,85.92 433.03,73.96 433.54,60.06 434.05,50.11 434.56,42.26 435.07,37.98 435.58,35.43 436.09,38.05 436.60,45.35 437.11,52.27 437.62,64.47 438.12,71.04 438.63,81.83 439.14,89.14 439.65,97.12 440.16,104.81 440.67,110.15 441.18,111.08 441.69,115.55 442.20,116.61 442.71,118.05 443.22,118.96 443.73,119.03 444.24,119.27 444.75,120.42 445.26,120.34 445.77,120.96 446.27,120.99 446.78,121.36 447.29,121.75 447.80,121.95 448.31,122.10 448.82,121.83 449.33,122.27 449.84,122.59" fill="#828282" stroke="#2a2a2a" stroke-width="1.0"/>
<polyline points="426.50,125.27 427.01,125.23 427.52,125.13 428.03,124.92 428.55,124.51 429.06,123.73 429.57,122.10 430.08,119.49 430.59,116.46 431.10,112.04 431.62,104.96 432.13,96.04 432.64,83.64 433.15,72.52 433.66,59.73 434.17,49.13 434.68,40.24 435.20,35.49 435.71,37.65 436.22,44.51 436.73,52.80 437.24,62.54 437.75,74.24 438.26,85.14 438.78,96.01 439.29,103.02 439.80,106.65 440.31,113.79 440.82,116.08 441.33,118.07 441.85,119.25 442.36,120.83 442.87,121.34 443.38,121.73 443.89,121.90 444.40,122.10 444.91,121.98 445.43,122.23 445.94,122.39 446.45,122.99 446.96,123.11" fill="none" stroke="#333" stroke-width="1.0"/>
<polyline points="416.50,125.44 417.50,125.61 418.50,125.23 419.50,125.33 420.50,124.80 421.50,125.15 422.50,125.63 423.50,125.54 424.50,125.57 425.50,125.68 426.50,125.02 427.50,124.90 428.50,124.94 429.50,125.27 430.50,125.41 431.50,125.65 432.50,125.45 433.50,125.38 434.50,125.49 435.50,125.21 436.50,125.30 437.50,124.84 438.50,125.50 439.50,125.01 440.50,125.63 441.50,125.38 442.50,125.07 443.50,124.92 444.50,125.03 445.50,125.37 446.50,125.43 447.50,124.90 448.50,124.86 449.50,125.27 450.50,125.32 451.50,125.15 452.50,125.00 453.50,125.34 454.50,124.81 455.50,125.07 456.50,125.21 457.50,125.66 458.50,125.38 459.50,125.60 460.50,125.23 461.50,125.01 462.50,125.02 463.50,125.66 464.50,125.43 465.50,125.08 466.50,124.82 467.50,125.25 468.50,125.41 469.50,125.18 470.50,125.03 471.50,125.40 472.50,125.63 473.50,125.00 474.50,124.83 475.50,125.10 476.50,125.18 477.50,125.41 478.50,124.98 479.50,125.52 480.50,125.47 481.50,125.25 482.50,124.98 483.50,125.67 484.50,125.08 485.50,125.54 486.50,125.01 487.50,125.00 488.50,125.48 489.50,125.07 490.50,125.66 491.50,125.25 492.50,124.97 493.50,125.00 494.50,125.18 495.50,125.40 496.50,125.65 497.50,124.93 498.50,125.15 499.50,124.99 500.50,125.68 501.50,124.93 502.50,124.85 503.50,124.85 504.50,125.15 505.50,125.61 506.50,125.60 507.50,125.46 508.50,125.70 509.50,125.64 510.50,125.10 511.50,124.97 512.50,125.64" fill="none" stroke="#222" stroke-width="1"/>
<line x1="428.5" y1="125.3" x2="428.5" y2="127.5" stroke="#333" stroke-width="0.9" />
<line x1="462.0" y1="125.3" x2="462.0" y2="127.5" stroke="#333" stroke-width="0.9" />
<line x1="483.0" y1="125.3" x2="483.0" y2="127.5" stroke="#333" stroke-width="0.9" />
<line x1="505.0" y1="125.3" x2="505.0" y2="127.5" stroke="#333" stroke-width="0.9" />
<line x1="436.5" y1="125.3" x2="436.5" y2="126.5" stroke="#666" stroke-width="0.7" />
<line x1="444.5" y1="125.3" x2="444.5" y2="126.5" stroke="#666" stroke-width="0.7" />
<line x1="452.5" y1="125.3" x2="452.5" y2="126.5" stroke="#666" stroke-width="0.7" />
<line x1="466.5" y1="125.3" x2="466.5" y2="126.5" stroke="#666" stroke-width="0.7" />
<line x1="472.5" y1="125.3" x2="472.5" y2="126.5" stroke="#666" stroke-width="0.7" />
<line x1="477.5" y1="125.3" x2="477.5" y2="126.5" stroke="#666" stroke-width="0.7" />
<line x1="488.5" y1="125.3" x2="488.5" y2="126.5" stroke="#666" stroke-width="0.7" />
<line x1="494.5" y1="125.3" x2="494.5" y2="126.5" stroke="#666" stroke-width="0.7" />
<line x1="499.5" y1="125.3" x2="499.5" y2="126.5" stroke="#666" stroke-width="0.7" />
<line x1="510.5" y1="125.3" x2="510.5" y2="126.5" stroke="#666" stroke-width="0.7" />
<text x="428.5" y="138.6" font-size="6.8" font-weight="bold" fill="#111" text-anchor="middle" stroke="#111" stroke-width="0.28" >0</text>
<text x="457.1" y="139.2" font-size="6.8" font-weight="bold" fill="#111" text-anchor="start" stroke="#111" stroke-width="0.28" >10</text>
<text x="464.5" y="133.0" font-size="5.6" font-weight="bold" fill="#111" text-anchor="start" stroke="#111" stroke-width="0.28" >3</text>
<text x="478.1" y="139.2" font-size="6.8" font-weight="bold" fill="#111" text-anchor="start" stroke="#111" stroke-width="0.28" >10</text>
<text x="485.5" y="133.0" font-size="5.6" font-weight="bold" fill="#111" text-anchor="start" stroke="#111" stroke-width="0.28" >4</text>
<text x="500.1" y="139.2" font-size="6.8" font-weight="bold" fill="#111" text-anchor="start" stroke="#111" stroke-width="0.28" >10</text>
<text x="507.5" y="133.0" font-size="5.6" font-weight="bold" fill="#111" text-anchor="start" stroke="#111" stroke-width="0.28" >5</text>
<rect x="444.8" y="43.3" width="11.4" height="5.2" fill="#fff" stroke="#444" stroke-width="0.8" />
<rect x="444.8" y="56.0" width="11.4" height="5.6" fill="#7c7c7c" stroke="#555" stroke-width="0.6" />
<text x="460.8" y="50.3" font-size="9.4" font-weight="bold" fill="#000" text-anchor="start" textLength="50.5" lengthAdjust="spacingAndGlyphs" stroke="#000" stroke-width="0.28" >Isotype ctrl</text>
<text x="460.8" y="63.3" font-size="9.4" font-weight="bold" fill="#000" text-anchor="start" textLength="48.5" lengthAdjust="spacingAndGlyphs" stroke="#000" stroke-width="0.28" >CD38 mAb</text>
<text x="0" y="0" font-size="10.6" font-weight="bold" fill="#000" text-anchor="start" textLength="96" lengthAdjust="spacingAndGlyphs" stroke="#000" stroke-width="0.28" transform="translate(15.6,128.6) rotate(-90)">Normalized counts</text>
<line x1="52" y1="149.3" x2="236.5" y2="149.3" stroke="#000" stroke-width="1.6" />
<line x1="312.5" y1="149.3" x2="496" y2="149.3" stroke="#000" stroke-width="1.6" />
<polygon points="495.2,146.9 499.8,149.3 495.2,151.7" fill="#000"/>
<text x="242.2" y="156.3" font-size="12.2" font-weight="bold" fill="#000" text-anchor="start" textLength="64.8" lengthAdjust="spacingAndGlyphs" stroke="#000" stroke-width="0.28" >CD38 (FITC)</text>
<text x="47.7" y="178.6" font-size="12" font-weight="bold" fill="#000" text-anchor="start" textLength="61.9" lengthAdjust="spacingAndGlyphs" stroke="#000" stroke-width="0.28" >RPMI-8226</text>
<line x1="37.8" y1="187.0" x2="37.8" y2="263.1" stroke="#333" stroke-width="1.0" />
<line x1="37.3" y1="262.6" x2="135.1" y2="262.6" stroke="#333" stroke-width="1.0" />
<line x1="35.0" y1="186.8" x2="37.8" y2="186.8" stroke="#222" stroke-width="1" />
<text x="35.199999999999996" y="190.3" font-size="8.6" font-weight="bold" fill="#111" text-anchor="end" stroke="#111" stroke-width="0.28" >100</text>
<line x1="35.0" y1="199.44" x2="37.8" y2="199.44" stroke="#222" stroke-width="1" />
<text x="35.199999999999996" y="202.94" font-size="8.6" font-weight="bold" fill="#111" text-anchor="end" stroke="#111" stroke-width="0.28" >80</text>
<line x1="35.0" y1="212.07999999999998" x2="37.8" y2="212.07999999999998" stroke="#222" stroke-width="1" />
<text x="35.199999999999996" y="215.57999999999998" font-size="8.6" font-weight="bold" fill="#111" text-anchor="end" stroke="#111" stroke-width="0.28" >60</text>
<line x1="35.0" y1="224.72" x2="37.8" y2="224.72" stroke="#222" stroke-width="1" />
<text x="35.199999999999996" y="228.22" font-size="8.6" font-weight="bold" fill="#111" text-anchor="end" stroke="#111" stroke-width="0.28" >40</text>
<line x1="35.0" y1="237.36" x2="37.8" y2="237.36" stroke="#222" stroke-width="1" />
<text x="35.199999999999996" y="240.86" font-size="8.6" font-weight="bold" fill="#111" text-anchor="end" stroke="#111" stroke-width="0.28" >20</text>
<line x1="35.0" y1="250.0" x2="37.8" y2="250.0" stroke="#222" stroke-width="1" />
<text x="35.199999999999996" y="253.5" font-size="8.6" font-weight="bold" fill="#111" text-anchor="end" stroke="#111" stroke-width="0.28" >0</text>
<line x1="35.0" y1="262.64" x2="37.8" y2="262.64" stroke="#222" stroke-width="1" />
<text x="35.199999999999996" y="266.14" font-size="8.6" font-weight="bold" fill="#111" text-anchor="end" stroke="#111" stroke-width="0.28" >-20</text>
<line x1="38.02" y1="262.6" x2="38.02" y2="265.2" stroke="#333" stroke-width="1" />
<text x="40.42" y="272.9" font-size="8.8" font-weight="bold" fill="#111" text-anchor="end" stroke="#111" stroke-width="0.28" >-3</text>
<line x1="50.08" y1="262.6" x2="50.08" y2="265.2" stroke="#333" stroke-width="1" />
<text x="52.48" y="272.9" font-size="8.8" font-weight="bold" fill="#111" text-anchor="end" stroke="#111" stroke-width="0.28" >-2</text>
<line x1="62.14" y1="262.6" x2="62.14" y2="265.2" stroke="#333" stroke-width="1" />
<text x="64.54" y="272.9" font-size="8.8" font-weight="bold" fill="#111" text-anchor="end" stroke="#111" stroke-width="0.28" >-1</text>
<line x1="74.2" y1="262.6" x2="74.2" y2="265.2" stroke="#333" stroke-width="1" />
<text x="74.2" y="272.9" font-size="8.8" font-weight="bold" fill="#111" text-anchor="middle" stroke="#111" stroke-width="0.28" >0</text>
<line x1="86.26" y1="262.6" x2="86.26" y2="265.2" stroke="#333" stroke-width="1" />
<text x="86.26" y="272.9" font-size="8.8" font-weight="bold" fill="#111" text-anchor="middle" stroke="#111" stroke-width="0.28" >1</text>
<line x1="98.32000000000001" y1="262.6" x2="98.32000000000001" y2="265.2" stroke="#333" stroke-width="1" />
<text x="98.32000000000001" y="272.9" font-size="8.8" font-weight="bold" fill="#111" text-anchor="middle" stroke="#111" stroke-width="0.28" >2</text>
<line x1="110.38" y1="262.6" x2="110.38" y2="265.2" stroke="#333" stroke-width="1" />
<text x="110.38" y="272.9" font-size="8.8" font-weight="bold" fill="#111" text-anchor="middle" stroke="#111" stroke-width="0.28" >3</text>
<line x1="122.44" y1="262.6" x2="122.44" y2="265.2" stroke="#333" stroke-width="1" />
<text x="122.44" y="272.9" font-size="8.8" font-weight="bold" fill="#111" text-anchor="middle" stroke="#111" stroke-width="0.28" >4</text>
<line x1="134.5" y1="262.6" x2="134.5" y2="265.2" stroke="#333" stroke-width="1" />
<text x="134.5" y="272.9" font-size="8.8" font-weight="bold" fill="#111" text-anchor="middle" stroke="#111" stroke-width="0.28" >5</text>
<polyline points="43.81,254.11 44.29,254.11 44.77,254.11 45.26,254.11 45.74,254.11 46.22,254.11 46.70,254.11 47.19,254.11 47.67,254.11 48.15,254.11 48.63,254.11 49.12,254.11 49.60,254.11 50.08,254.11 50.56,254.11 51.04,254.11 51.53,254.11 52.01,254.11 52.49,254.11 52.97,254.11 53.46,254.11 53.94,254.11 54.42,254.11 54.90,254.11 55.39,254.11 55.87,254.11 56.35,254.11 56.83,254.11 57.32,254.11 57.80,254.11 58.28,254.11 58.76,254.11 59.25,254.11 59.73,254.11 60.21,254.11 60.69,254.11 61.18,254.11 61.66,254.11 62.14,254.11 62.62,254.11 63.10,254.11 63.59,254.11 64.07,254.11 64.55,254.11 65.03,254.11 65.52,254.11 66.00,254.11 66.48,254.11 66.96,254.11 67.45,254.10 67.93,254.10 68.41,254.10 68.89,254.10 69.38,254.10 69.86,254.10 70.34,254.09 70.82,254.09 71.31,254.08 71.79,254.08 72.27,254.07 72.75,254.06 73.24,254.04 73.72,254.03 74.20,254.01 74.68,253.98 75.16,253.94 75.65,253.90 76.13,253.84 76.61,253.77 77.09,253.68 77.58,253.56 78.06,253.42 78.54,253.23 79.02,253.00 79.51,252.71 79.99,252.34 80.47,251.87 80.95,251.30 81.44,250.58 81.92,249.68 82.40,248.59 82.88,247.25 83.37,245.63 83.85,243.70 84.33,241.42 84.81,238.79 85.30,235.79 85.78,232.46 86.26,228.85 86.74,225.02 87.22,221.09 87.71,217.15 88.19,213.33 88.67,209.71 89.15,206.38 89.64,203.38 90.12,200.75 90.60,198.47 91.08,196.54 91.57,194.92 92.05,193.58 92.53,192.49 93.01,191.60 93.50,190.88 93.98,190.30 94.46,189.83 94.94,189.47 95.43,189.17 95.91,188.94 96.39,188.75 96.87,188.61 97.36,188.49 97.84,188.40 98.32,188.33 98.80,188.27 99.28,188.23 99.77,188.19 100.25,188.17 100.73,188.14 101.21,188.13 101.70,188.11 102.18,188.10 102.66,188.10 103.14,188.09 103.63,188.08 104.11,188.08 104.59,188.08 105.07,188.07 105.56,188.07 106.04,188.07 106.52,188.07 107.00,188.07 107.49,188.07 107.97,188.07 108.45,188.07 108.93,188.07 109.42,188.07 109.90,188.06 110.38,188.06 110.86,188.06 111.34,188.06 111.83,188.06 112.31,188.06 112.79,188.06 113.27,188.06 113.76,188.06 114.24,188.06 114.72,188.06 115.20,188.06 115.69,188.06 116.17,188.06 116.65,188.06 117.13,188.06 117.62,188.06 118.10,188.06 118.58,188.06 119.06,188.06 119.55,188.06 120.03,188.06 120.51,188.06 120.99,188.06 121.48,188.06 121.96,188.06 122.44,188.06 122.92,188.06 123.40,188.06 123.89,188.06 124.37,188.06 124.85,188.06 125.33,188.06 125.82,188.06 126.30,188.06 126.78,188.06 127.26,188.06 127.75,188.06 128.23,188.06" fill="none" stroke="#2a2aa8" stroke-width="1.3"/>
<line x1="43.808800000000005" y1="250.316" x2="43.808800000000005" y2="254.74" stroke="#2a2aa8" stroke-width="1.1" />
<line x1="42.40880000000001" y1="250.316" x2="45.208800000000004" y2="250.316" stroke="#2a2aa8" stroke-width="1" />
<line x1="42.40880000000001" y1="254.74" x2="45.208800000000004" y2="254.74" stroke="#2a2aa8" stroke-width="1" />
<circle cx="43.81" cy="252.53" r="1.25" fill="#2a2aa8"/>
<line x1="52.2508" y1="251.264" x2="52.2508" y2="257.584" stroke="#2a2aa8" stroke-width="1.1" />
<line x1="50.8508" y1="251.264" x2="53.6508" y2="251.264" stroke="#2a2aa8" stroke-width="1" />
<line x1="50.8508" y1="257.584" x2="53.6508" y2="257.584" stroke="#2a2aa8" stroke-width="1" />
<circle cx="52.25" cy="254.42" r="1.25" fill="#2a2aa8"/>
<line x1="60.692800000000005" y1="251.896" x2="60.692800000000005" y2="258.216" stroke="#2a2aa8" stroke-width="1.1" />
<line x1="59.29280000000001" y1="251.896" x2="62.092800000000004" y2="251.896" stroke="#2a2aa8" stroke-width="1" />
<line x1="59.29280000000001" y1="258.216" x2="62.092800000000004" y2="258.216" stroke="#2a2aa8" stroke-width="1" />
<circle cx="60.69" cy="255.06" r="1.25" fill="#2a2aa8"/>
<line x1="69.1348" y1="252.844" x2="69.1348" y2="256.004" stroke="#2a2aa8" stroke-width="1.1" />
<line x1="67.73479999999999" y1="252.844" x2="70.5348" y2="252.844" stroke="#2a2aa8" stroke-width="1" />
<line x1="67.73479999999999" y1="256.004" x2="70.5348" y2="256.004" stroke="#2a2aa8" stroke-width="1" />
<circle cx="69.13" cy="254.42" r="1.25" fill="#2a2aa8"/>
<line x1="77.5768" y1="252.212" x2="77.5768" y2="256.636" stroke="#2a2aa8" stroke-width="1.1" />
<line x1="76.1768" y1="252.212" x2="78.97680000000001" y2="252.212" stroke="#2a2aa8" stroke-width="1" />
<line x1="76.1768" y1="256.636" x2="78.97680000000001" y2="256.636" stroke="#2a2aa8" stroke-width="1" />
<circle cx="77.58" cy="254.42" r="1.25" fill="#2a2aa8"/>
<line x1="86.0188" y1="225.352" x2="86.0188" y2="232.936" stroke="#2a2aa8" stroke-width="1.1" />
<line x1="84.6188" y1="225.352" x2="87.4188" y2="225.352" stroke="#2a2aa8" stroke-width="1" />
<line x1="84.6188" y1="232.936" x2="87.4188" y2="232.936" stroke="#2a2aa8" stroke-width="1" />
<circle cx="86.02" cy="229.14" r="1.25" fill="#2a2aa8"/>
<line x1="94.46079999999999" y1="189.328" x2="94.46079999999999" y2="190.59199999999998" stroke="#2a2aa8" stroke-width="1.1" />
<line x1="93.06079999999999" y1="189.328" x2="95.8608" y2="189.328" stroke="#2a2aa8" stroke-width="1" />
<line x1="93.06079999999999" y1="190.59199999999998" x2="95.8608" y2="190.59199999999998" stroke="#2a2aa8" stroke-width="1" />
<circle cx="94.46" cy="189.96" r="1.25" fill="#2a2aa8"/>
<circle cx="102.90" cy="188.06" r="1.25" fill="#2a2aa8"/>
<circle cx="111.34" cy="188.06" r="1.25" fill="#2a2aa8"/>
<circle cx="119.79" cy="188.06" r="1.25" fill="#2a2aa8"/>
<circle cx="128.23" cy="188.06" r="1.25" fill="#2a2aa8"/>
<text x="42.0" y="204.9" font-size="9.2" font-weight="bold" fill="#2222aa" stroke="#2222aa" stroke-width="0.28" textLength="40.1" lengthAdjust="spacingAndGlyphs">EC<tspan font-size="7.2" dy="2.3">50</tspan><tspan dy="-2.3"> = 12</tspan></text>
<text x="46.1" y="217.7" font-size="9.4" font-weight="bold" fill="#2222aa" text-anchor="start" textLength="32.2" lengthAdjust="spacingAndGlyphs" stroke="#2222aa" stroke-width="0.28" >pmol/L</text>
<text x="172.2" y="178.6" font-size="12" font-weight="bold" fill="#000" text-anchor="start" textLength="76.1" lengthAdjust="spacingAndGlyphs" stroke="#000" stroke-width="0.28" >NCI-H929-luc</text>
<line x1="164.2" y1="187.0" x2="164.2" y2="263.1" stroke="#333" stroke-width="1.0" />
<line x1="163.7" y1="262.6" x2="261.95000000000005" y2="262.6" stroke="#333" stroke-width="1.0" />
<line x1="161.39999999999998" y1="186.8" x2="164.2" y2="186.8" stroke="#222" stroke-width="1" />
<text x="161.6" y="190.3" font-size="8.6" font-weight="bold" fill="#111" text-anchor="end" stroke="#111" stroke-width="0.28" >100</text>
<line x1="161.39999999999998" y1="199.44" x2="164.2" y2="199.44" stroke="#222" stroke-width="1" />
<text x="161.6" y="202.94" font-size="8.6" font-weight="bold" fill="#111" text-anchor="end" stroke="#111" stroke-width="0.28" >80</text>
<line x1="161.39999999999998" y1="212.07999999999998" x2="164.2" y2="212.07999999999998" stroke="#222" stroke-width="1" />
<text x="161.6" y="215.57999999999998" font-size="8.6" font-weight="bold" fill="#111" text-anchor="end" stroke="#111" stroke-width="0.28" >60</text>
<line x1="161.39999999999998" y1="224.72" x2="164.2" y2="224.72" stroke="#222" stroke-width="1" />
<text x="161.6" y="228.22" font-size="8.6" font-weight="bold" fill="#111" text-anchor="end" stroke="#111" stroke-width="0.28" >40</text>
<line x1="161.39999999999998" y1="237.36" x2="164.2" y2="237.36" stroke="#222" stroke-width="1" />
<text x="161.6" y="240.86" font-size="8.6" font-weight="bold" fill="#111" text-anchor="end" stroke="#111" stroke-width="0.28" >20</text>
<line x1="161.39999999999998" y1="250.0" x2="164.2" y2="250.0" stroke="#222" stroke-width="1" />
<text x="161.6" y="253.5" font-size="8.6" font-weight="bold" fill="#111" text-anchor="end" stroke="#111" stroke-width="0.28" >0</text>
<line x1="161.39999999999998" y1="262.64" x2="164.2" y2="262.64" stroke="#222" stroke-width="1" />
<text x="161.6" y="266.14" font-size="8.6" font-weight="bold" fill="#111" text-anchor="end" stroke="#111" stroke-width="0.28" >-20</text>
<line x1="164.14999999999998" y1="262.6" x2="164.14999999999998" y2="265.2" stroke="#333" stroke-width="1" />
<text x="166.54999999999998" y="272.9" font-size="8.8" font-weight="bold" fill="#111" text-anchor="end" stroke="#111" stroke-width="0.28" >-3</text>
<line x1="176.29999999999998" y1="262.6" x2="176.29999999999998" y2="265.2" stroke="#333" stroke-width="1" />
<text x="178.7" y="272.9" font-size="8.8" font-weight="bold" fill="#111" text-anchor="end" stroke="#111" stroke-width="0.28" >-2</text>
<line x1="188.45" y1="262.6" x2="188.45" y2="265.2" stroke="#333" stroke-width="1" />
<text x="190.85" y="272.9" font-size="8.8" font-weight="bold" fill="#111" text-anchor="end" stroke="#111" stroke-width="0.28" >-1</text>
<line x1="200.6" y1="262.6" x2="200.6" y2="265.2" stroke="#333" stroke-width="1" />
<text x="200.6" y="272.9" font-size="8.8" font-weight="bold" fill="#111" text-anchor="middle" stroke="#111" stroke-width="0.28" >0</text>
<line x1="212.75" y1="262.6" x2="212.75" y2="265.2" stroke="#333" stroke-width="1" />
<text x="212.75" y="272.9" font-size="8.8" font-weight="bold" fill="#111" text-anchor="middle" stroke="#111" stroke-width="0.28" >1</text>
<line x1="224.9" y1="262.6" x2="224.9" y2="265.2" stroke="#333" stroke-width="1" />
<text x="224.9" y="272.9" font-size="8.8" font-weight="bold" fill="#111" text-anchor="middle" stroke="#111" stroke-width="0.28" >2</text>
<line x1="237.05" y1="262.6" x2="237.05" y2="265.2" stroke="#333" stroke-width="1" />
<text x="237.05" y="272.9" font-size="8.8" font-weight="bold" fill="#111" text-anchor="middle" stroke="#111" stroke-width="0.28" >3</text>
<line x1="249.2" y1="262.6" x2="249.2" y2="265.2" stroke="#333" stroke-width="1" />
<text x="249.2" y="272.9" font-size="8.8" font-weight="bold" fill="#111" text-anchor="middle" stroke="#111" stroke-width="0.28" >4</text>
<line x1="261.35" y1="262.6" x2="261.35" y2="265.2" stroke="#333" stroke-width="1" />
<text x="261.35" y="272.9" font-size="8.8" font-weight="bold" fill="#111" text-anchor="middle" stroke="#111" stroke-width="0.28" >5</text>
<polyline points="169.98,253.16 170.47,253.16 170.95,253.16 171.44,253.16 171.93,253.16 172.41,253.16 172.90,253.16 173.38,253.16 173.87,253.16 174.36,253.16 174.84,253.16 175.33,253.16 175.81,253.16 176.30,253.16 176.79,253.16 177.27,253.16 177.76,253.16 178.24,253.16 178.73,253.16 179.22,253.16 179.70,253.16 180.19,253.16 180.67,253.16 181.16,253.16 181.65,253.16 182.13,253.16 182.62,253.16 183.10,253.16 183.59,253.16 184.08,253.16 184.56,253.16 185.05,253.16 185.53,253.16 186.02,253.16 186.51,253.16 186.99,253.16 187.48,253.16 187.96,253.16 188.45,253.16 188.94,253.16 189.42,253.16 189.91,253.16 190.39,253.16 190.88,253.16 191.37,253.16 191.85,253.16 192.34,253.16 192.82,253.16 193.31,253.16 193.80,253.16 194.28,253.16 194.77,253.16 195.25,253.16 195.74,253.16 196.23,253.16 196.71,253.15 197.20,253.15 197.68,253.15 198.17,253.15 198.66,253.15 199.14,253.15 199.63,253.14 200.11,253.14 200.60,253.13 201.09,253.13 201.57,253.12 202.06,253.11 202.54,253.09 203.03,253.08 203.52,253.06 204.00,253.04 204.49,253.01 204.97,252.97 205.46,252.93 205.95,252.87 206.43,252.81 206.92,252.72 207.40,252.62 207.89,252.50 208.38,252.34 208.86,252.15 209.35,251.92 209.83,251.64 210.32,251.29 210.81,250.86 211.29,250.35 211.78,249.72 212.26,248.96 212.75,248.06 213.24,246.98 213.72,245.70 214.21,244.20 214.69,242.46 215.18,240.46 215.67,238.21 216.15,235.70 216.64,232.96 217.12,230.02 217.61,226.93 218.10,223.75 218.58,220.56 219.07,217.41 219.55,214.39 220.04,211.54 220.53,208.92 221.01,206.53 221.50,204.41 221.98,202.54 222.47,200.92 222.96,199.54 223.44,198.36 223.93,197.37 224.41,196.54 224.90,195.85 225.39,195.28 225.87,194.82 226.36,194.43 226.84,194.12 227.33,193.86 227.82,193.65 228.30,193.48 228.79,193.34 229.27,193.22 229.76,193.13 230.25,193.06 230.73,193.00 231.22,192.95 231.70,192.91 232.19,192.88 232.68,192.85 233.16,192.83 233.65,192.81 234.13,192.80 234.62,192.79 235.11,192.78 235.59,192.77 236.08,192.77 236.56,192.76 237.05,192.76 237.54,192.75 238.02,192.75 238.51,192.75 238.99,192.75 239.48,192.75 239.97,192.75 240.45,192.74 240.94,192.74 241.42,192.74 241.91,192.74 242.40,192.74 242.88,192.74 243.37,192.74 243.85,192.74 244.34,192.74 244.83,192.74 245.31,192.74 245.80,192.74 246.28,192.74 246.77,192.74 247.26,192.74 247.74,192.74 248.23,192.74 248.71,192.74 249.20,192.74 249.69,192.74 250.17,192.74 250.66,192.74 251.14,192.74 251.63,192.74 252.12,192.74 252.60,192.74 253.09,192.74 253.57,192.74 254.06,192.74 254.55,192.74 255.03,192.74" fill="none" stroke="#2a2aa8" stroke-width="1.3"/>
<line x1="169.982" y1="248.736" x2="169.982" y2="257.584" stroke="#2a2aa8" stroke-width="1.1" />
<line x1="168.582" y1="248.736" x2="171.382" y2="248.736" stroke="#2a2aa8" stroke-width="1" />
<line x1="168.582" y1="257.584" x2="171.382" y2="257.584" stroke="#2a2aa8" stroke-width="1" />
<circle cx="169.98" cy="253.16" r="1.25" fill="#2a2aa8"/>
<line x1="178.487" y1="251.264" x2="178.487" y2="256.32" stroke="#2a2aa8" stroke-width="1.1" />
<line x1="177.087" y1="251.264" x2="179.887" y2="251.264" stroke="#2a2aa8" stroke-width="1" />
<line x1="177.087" y1="256.32" x2="179.887" y2="256.32" stroke="#2a2aa8" stroke-width="1" />
<circle cx="178.49" cy="253.79" r="1.25" fill="#2a2aa8"/>
<line x1="186.992" y1="250.948" x2="186.992" y2="255.372" stroke="#2a2aa8" stroke-width="1.1" />
<line x1="185.59199999999998" y1="250.948" x2="188.392" y2="250.948" stroke="#2a2aa8" stroke-width="1" />
<line x1="185.59199999999998" y1="255.372" x2="188.392" y2="255.372" stroke="#2a2aa8" stroke-width="1" />
<circle cx="186.99" cy="253.16" r="1.25" fill="#2a2aa8"/>
<line x1="195.49699999999999" y1="251.264" x2="195.49699999999999" y2="256.32" stroke="#2a2aa8" stroke-width="1.1" />
<line x1="194.09699999999998" y1="251.264" x2="196.897" y2="251.264" stroke="#2a2aa8" stroke-width="1" />
<line x1="194.09699999999998" y1="256.32" x2="196.897" y2="256.32" stroke="#2a2aa8" stroke-width="1" />
<circle cx="195.50" cy="253.79" r="1.25" fill="#2a2aa8"/>
<line x1="204.00199999999998" y1="251.264" x2="204.00199999999998" y2="255.056" stroke="#2a2aa8" stroke-width="1.1" />
<line x1="202.60199999999998" y1="251.264" x2="205.402" y2="251.264" stroke="#2a2aa8" stroke-width="1" />
<line x1="202.60199999999998" y1="255.056" x2="205.402" y2="255.056" stroke="#2a2aa8" stroke-width="1" />
<circle cx="204.00" cy="253.16" r="1.25" fill="#2a2aa8"/>
<line x1="212.507" y1="248.736" x2="212.507" y2="251.264" stroke="#2a2aa8" stroke-width="1.1" />
<line x1="211.107" y1="248.736" x2="213.907" y2="248.736" stroke="#2a2aa8" stroke-width="1" />
<line x1="211.107" y1="251.264" x2="213.907" y2="251.264" stroke="#2a2aa8" stroke-width="1" />
<circle cx="212.51" cy="250.00" r="1.25" fill="#2a2aa8"/>
<line x1="221.012" y1="201.336" x2="221.012" y2="203.864" stroke="#2a2aa8" stroke-width="1.1" />
<line x1="219.612" y1="201.336" x2="222.412" y2="201.336" stroke="#2a2aa8" stroke-width="1" />
<line x1="219.612" y1="203.864" x2="222.412" y2="203.864" stroke="#2a2aa8" stroke-width="1" />
<circle cx="221.01" cy="202.60" r="1.25" fill="#2a2aa8"/>
<circle cx="229.52" cy="192.80" r="1.25" fill="#2a2aa8"/>
<circle cx="238.02" cy="192.49" r="1.25" fill="#2a2aa8"/>
<circle cx="246.53" cy="192.49" r="1.25" fill="#2a2aa8"/>
<circle cx="255.03" cy="192.49" r="1.25" fill="#2a2aa8"/>
<text x="167.6" y="211.5" font-size="9.2" font-weight="bold" fill="#2222aa" stroke="#2222aa" stroke-width="0.28" textLength="48.800000000000004" lengthAdjust="spacingAndGlyphs">EC<tspan font-size="7.2" dy="2.3">50</tspan><tspan dy="-2.3"> = 28.5</tspan></text>
<text x="175.79999999999998" y="224.3" font-size="9.4" font-weight="bold" fill="#2222aa" text-anchor="start" textLength="31.3" lengthAdjust="spacingAndGlyphs" stroke="#2222aa" stroke-width="0.28" >pmol/L</text>
<text x="311.8" y="178.6" font-size="12" font-weight="bold" fill="#000" text-anchor="start" textLength="60.199999999999996" lengthAdjust="spacingAndGlyphs" stroke="#000" stroke-width="0.28" >SKM-1-luc</text>
<line x1="289.9" y1="187.0" x2="289.9" y2="263.1" stroke="#333" stroke-width="1.0" />
<line x1="289.4" y1="262.6" x2="387.25000000000006" y2="262.6" stroke="#333" stroke-width="1.0" />
<line x1="287.09999999999997" y1="186.8" x2="289.9" y2="186.8" stroke="#222" stroke-width="1" />
<text x="287.29999999999995" y="190.3" font-size="8.6" font-weight="bold" fill="#111" text-anchor="end" stroke="#111" stroke-width="0.28" >100</text>
<line x1="287.09999999999997" y1="199.44" x2="289.9" y2="199.44" stroke="#222" stroke-width="1" />
<text x="287.29999999999995" y="202.94" font-size="8.6" font-weight="bold" fill="#111" text-anchor="end" stroke="#111" stroke-width="0.28" >80</text>
<line x1="287.09999999999997" y1="212.07999999999998" x2="289.9" y2="212.07999999999998" stroke="#222" stroke-width="1" />
<text x="287.29999999999995" y="215.57999999999998" font-size="8.6" font-weight="bold" fill="#111" text-anchor="end" stroke="#111" stroke-width="0.28" >60</text>
<line x1="287.09999999999997" y1="224.72" x2="289.9" y2="224.72" stroke="#222" stroke-width="1" />
<text x="287.29999999999995" y="228.22" font-size="8.6" font-weight="bold" fill="#111" text-anchor="end" stroke="#111" stroke-width="0.28" >40</text>
<line x1="287.09999999999997" y1="237.36" x2="289.9" y2="237.36" stroke="#222" stroke-width="1" />
<text x="287.29999999999995" y="240.86" font-size="8.6" font-weight="bold" fill="#111" text-anchor="end" stroke="#111" stroke-width="0.28" >20</text>
<line x1="287.09999999999997" y1="250.0" x2="289.9" y2="250.0" stroke="#222" stroke-width="1" />
<text x="287.29999999999995" y="253.5" font-size="8.6" font-weight="bold" fill="#111" text-anchor="end" stroke="#111" stroke-width="0.28" >0</text>
<line x1="287.09999999999997" y1="262.64" x2="289.9" y2="262.64" stroke="#222" stroke-width="1" />
<text x="287.29999999999995" y="266.14" font-size="8.6" font-weight="bold" fill="#111" text-anchor="end" stroke="#111" stroke-width="0.28" >-20</text>
<line x1="290.09000000000003" y1="262.6" x2="290.09000000000003" y2="265.2" stroke="#333" stroke-width="1" />
<text x="292.49" y="272.9" font-size="8.8" font-weight="bold" fill="#111" text-anchor="end" stroke="#111" stroke-width="0.28" >-3</text>
<line x1="302.16" y1="262.6" x2="302.16" y2="265.2" stroke="#333" stroke-width="1" />
<text x="304.56" y="272.9" font-size="8.8" font-weight="bold" fill="#111" text-anchor="end" stroke="#111" stroke-width="0.28" >-2</text>
<line x1="314.23" y1="262.6" x2="314.23" y2="265.2" stroke="#333" stroke-width="1" />
<text x="316.63" y="272.9" font-size="8.8" font-weight="bold" fill="#111" text-anchor="end" stroke="#111" stroke-width="0.28" >-1</text>
<line x1="326.3" y1="262.6" x2="326.3" y2="265.2" stroke="#333" stroke-width="1" />
<text x="326.3" y="272.9" font-size="8.8" font-weight="bold" fill="#111" text-anchor="middle" stroke="#111" stroke-width="0.28" >0</text>
<line x1="338.37" y1="262.6" x2="338.37" y2="265.2" stroke="#333" stroke-width="1" />
<text x="338.37" y="272.9" font-size="8.8" font-weight="bold" fill="#111" text-anchor="middle" stroke="#111" stroke-width="0.28" >1</text>
<line x1="350.44" y1="262.6" x2="350.44" y2="265.2" stroke="#333" stroke-width="1" />
<text x="350.44" y="272.9" font-size="8.8" font-weight="bold" fill="#111" text-anchor="middle" stroke="#111" stroke-width="0.28" >2</text>
<line x1="362.51" y1="262.6" x2="362.51" y2="265.2" stroke="#333" stroke-width="1" />
<text x="362.51" y="272.9" font-size="8.8" font-weight="bold" fill="#111" text-anchor="middle" stroke="#111" stroke-width="0.28" >3</text>
<line x1="374.58000000000004" y1="262.6" x2="374.58000000000004" y2="265.2" stroke="#333" stroke-width="1" />
<text x="374.58000000000004" y="272.9" font-size="8.8" font-weight="bold" fill="#111" text-anchor="middle" stroke="#111" stroke-width="0.28" >4</text>
<line x1="386.65000000000003" y1="262.6" x2="386.65000000000003" y2="265.2" stroke="#333" stroke-width="1" />
<text x="386.65000000000003" y="272.9" font-size="8.8" font-weight="bold" fill="#111" text-anchor="middle" stroke="#111" stroke-width="0.28" >5</text>
<polyline points="295.88,251.58 296.37,251.58 296.85,251.58 297.33,251.58 297.81,251.58 298.30,251.58 298.78,251.58 299.26,251.58 299.75,251.58 300.23,251.58 300.71,251.58 301.19,251.58 301.68,251.58 302.16,251.58 302.64,251.58 303.13,251.58 303.61,251.58 304.09,251.58 304.57,251.58 305.06,251.58 305.54,251.58 306.02,251.58 306.51,251.58 306.99,251.58 307.47,251.58 307.95,251.58 308.44,251.58 308.92,251.58 309.40,251.58 309.88,251.58 310.37,251.58 310.85,251.58 311.33,251.58 311.82,251.58 312.30,251.58 312.78,251.58 313.26,251.58 313.75,251.58 314.23,251.58 314.71,251.58 315.20,251.58 315.68,251.58 316.16,251.58 316.64,251.58 317.13,251.58 317.61,251.58 318.09,251.58 318.58,251.58 319.06,251.58 319.54,251.58 320.02,251.58 320.51,251.58 320.99,251.58 321.47,251.58 321.95,251.58 322.44,251.58 322.92,251.58 323.40,251.58 323.89,251.58 324.37,251.58 324.85,251.58 325.33,251.58 325.82,251.58 326.30,251.58 326.78,251.58 327.27,251.58 327.75,251.58 328.23,251.58 328.71,251.57 329.20,251.57 329.68,251.57 330.16,251.57 330.65,251.57 331.13,251.56 331.61,251.56 332.09,251.56 332.58,251.55 333.06,251.55 333.54,251.54 334.02,251.53 334.51,251.52 334.99,251.51 335.47,251.49 335.96,251.47 336.44,251.45 336.92,251.42 337.40,251.39 337.89,251.35 338.37,251.30 338.85,251.24 339.34,251.17 339.82,251.08 340.30,250.97 340.78,250.85 341.27,250.69 341.75,250.51 342.23,250.28 342.72,250.01 343.20,249.69 343.68,249.30 344.16,248.84 344.65,248.29 345.13,247.63 345.61,246.86 346.09,245.95 346.58,244.89 347.06,243.65 347.54,242.24 348.03,240.62 348.51,238.80 348.99,236.77 349.47,234.55 349.96,232.14 350.44,229.57 350.92,226.89 351.41,224.12 351.89,221.34 352.37,218.57 352.85,215.89 353.34,213.32 353.82,210.91 354.30,208.68 354.79,206.66 355.27,204.84 355.75,203.22 356.23,201.80 356.72,200.57 357.20,199.51 357.68,198.60 358.16,197.83 358.65,197.17 359.13,196.62 359.61,196.16 360.10,195.77 360.58,195.45 361.06,195.18 361.54,194.95 362.03,194.77 362.51,194.61 362.99,194.48 363.48,194.38 363.96,194.29 364.44,194.22 364.92,194.16 365.41,194.11 365.89,194.07 366.37,194.04 366.86,194.01 367.34,193.99 367.82,193.97 368.30,193.95 368.79,193.94 369.27,193.93 369.75,193.92 370.23,193.91 370.72,193.91 371.20,193.90 371.68,193.90 372.17,193.89 372.65,193.89 373.13,193.89 373.61,193.89 374.10,193.89 374.58,193.88 375.06,193.88 375.55,193.88 376.03,193.88 376.51,193.88 376.99,193.88 377.48,193.88 377.96,193.88 378.44,193.88 378.93,193.88 379.41,193.88 379.89,193.88 380.37,193.88" fill="none" stroke="#2a2aa8" stroke-width="1.3"/>
<line x1="295.8836" y1="243.048" x2="295.8836" y2="254.424" stroke="#2a2aa8" stroke-width="1.1" />
<line x1="294.4836" y1="243.048" x2="297.2836" y2="243.048" stroke="#2a2aa8" stroke-width="1" />
<line x1="294.4836" y1="254.424" x2="297.2836" y2="254.424" stroke="#2a2aa8" stroke-width="1" />
<circle cx="295.88" cy="248.74" r="1.25" fill="#2a2aa8"/>
<line x1="304.3326" y1="247.472" x2="304.3326" y2="253.792" stroke="#2a2aa8" stroke-width="1.1" />
<line x1="302.93260000000004" y1="247.472" x2="305.7326" y2="247.472" stroke="#2a2aa8" stroke-width="1" />
<line x1="302.93260000000004" y1="253.792" x2="305.7326" y2="253.792" stroke="#2a2aa8" stroke-width="1" />
<circle cx="304.33" cy="250.63" r="1.25" fill="#2a2aa8"/>
<line x1="312.7816" y1="249.052" x2="312.7816" y2="256.004" stroke="#2a2aa8" stroke-width="1.1" />
<line x1="311.38160000000005" y1="249.052" x2="314.1816" y2="249.052" stroke="#2a2aa8" stroke-width="1" />
<line x1="311.38160000000005" y1="256.004" x2="314.1816" y2="256.004" stroke="#2a2aa8" stroke-width="1" />
<circle cx="312.78" cy="252.53" r="1.25" fill="#2a2aa8"/>
<line x1="321.2306" y1="250.0" x2="321.2306" y2="256.32" stroke="#2a2aa8" stroke-width="1.1" />
<line x1="319.8306" y1="250.0" x2="322.63059999999996" y2="250.0" stroke="#2a2aa8" stroke-width="1" />
<line x1="319.8306" y1="256.32" x2="322.63059999999996" y2="256.32" stroke="#2a2aa8" stroke-width="1" />
<circle cx="321.23" cy="253.16" r="1.25" fill="#2a2aa8"/>
<line x1="329.6796" y1="250.632" x2="329.6796" y2="253.16" stroke="#2a2aa8" stroke-width="1.1" />
<line x1="328.2796" y1="250.632" x2="331.07959999999997" y2="250.632" stroke="#2a2aa8" stroke-width="1" />
<line x1="328.2796" y1="253.16" x2="331.07959999999997" y2="253.16" stroke="#2a2aa8" stroke-width="1" />
<circle cx="329.68" cy="251.90" r="1.25" fill="#2a2aa8"/>
<line x1="338.1286" y1="249.368" x2="338.1286" y2="254.424" stroke="#2a2aa8" stroke-width="1.1" />
<line x1="336.72860000000003" y1="249.368" x2="339.5286" y2="249.368" stroke="#2a2aa8" stroke-width="1" />
<line x1="336.72860000000003" y1="254.424" x2="339.5286" y2="254.424" stroke="#2a2aa8" stroke-width="1" />
<circle cx="338.13" cy="251.90" r="1.25" fill="#2a2aa8"/>
<line x1="346.5776" y1="241.152" x2="346.5776" y2="246.208" stroke="#2a2aa8" stroke-width="1.1" />
<line x1="345.17760000000004" y1="241.152" x2="347.9776" y2="241.152" stroke="#2a2aa8" stroke-width="1" />
<line x1="345.17760000000004" y1="246.208" x2="347.9776" y2="246.208" stroke="#2a2aa8" stroke-width="1" />
<circle cx="346.58" cy="243.68" r="1.25" fill="#2a2aa8"/>
<line x1="355.02660000000003" y1="201.336" x2="355.02660000000003" y2="206.392" stroke="#2a2aa8" stroke-width="1.1" />
<line x1="353.62660000000005" y1="201.336" x2="356.4266" y2="201.336" stroke="#2a2aa8" stroke-width="1" />
<line x1="353.62660000000005" y1="206.392" x2="356.4266" y2="206.392" stroke="#2a2aa8" stroke-width="1" />
<circle cx="355.03" cy="203.86" r="1.25" fill="#2a2aa8"/>
<circle cx="363.48" cy="194.00" r="1.25" fill="#2a2aa8"/>
<circle cx="371.92" cy="193.75" r="1.25" fill="#2a2aa8"/>
<circle cx="380.37" cy="193.75" r="1.25" fill="#2a2aa8"/>
<text x="299.6" y="213.1" font-size="9.2" font-weight="bold" fill="#2222aa" stroke="#2222aa" stroke-width="0.28" textLength="45.7" lengthAdjust="spacingAndGlyphs">EC<tspan font-size="7.2" dy="2.3">50</tspan><tspan dy="-2.3"> = 125</tspan></text>
<text x="306.5" y="226.0" font-size="9.4" font-weight="bold" fill="#2222aa" text-anchor="start" textLength="32.0" lengthAdjust="spacingAndGlyphs" stroke="#2222aa" stroke-width="0.28" >pmol/L</text>
<text x="439.8" y="178.6" font-size="12" font-weight="bold" fill="#000" text-anchor="start" textLength="59.8" lengthAdjust="spacingAndGlyphs" stroke="#000" stroke-width="0.28" >HEL92.1.7</text>
<line x1="414.5" y1="187.0" x2="414.5" y2="263.1" stroke="#333" stroke-width="1.0" />
<line x1="414.0" y1="262.6" x2="512.0" y2="262.6" stroke="#333" stroke-width="1.0" />
<line x1="411.7" y1="186.8" x2="414.5" y2="186.8" stroke="#222" stroke-width="1" />
<text x="411.9" y="190.3" font-size="8.6" font-weight="bold" fill="#111" text-anchor="end" stroke="#111" stroke-width="0.28" >100</text>
<line x1="411.7" y1="199.44" x2="414.5" y2="199.44" stroke="#222" stroke-width="1" />
<text x="411.9" y="202.94" font-size="8.6" font-weight="bold" fill="#111" text-anchor="end" stroke="#111" stroke-width="0.28" >80</text>
<line x1="411.7" y1="212.07999999999998" x2="414.5" y2="212.07999999999998" stroke="#222" stroke-width="1" />
<text x="411.9" y="215.57999999999998" font-size="8.6" font-weight="bold" fill="#111" text-anchor="end" stroke="#111" stroke-width="0.28" >60</text>
<line x1="411.7" y1="224.72" x2="414.5" y2="224.72" stroke="#222" stroke-width="1" />
<text x="411.9" y="228.22" font-size="8.6" font-weight="bold" fill="#111" text-anchor="end" stroke="#111" stroke-width="0.28" >40</text>
<line x1="411.7" y1="237.36" x2="414.5" y2="237.36" stroke="#222" stroke-width="1" />
<text x="411.9" y="240.86" font-size="8.6" font-weight="bold" fill="#111" text-anchor="end" stroke="#111" stroke-width="0.28" >20</text>
<line x1="411.7" y1="250.0" x2="414.5" y2="250.0" stroke="#222" stroke-width="1" />
<text x="411.9" y="253.5" font-size="8.6" font-weight="bold" fill="#111" text-anchor="end" stroke="#111" stroke-width="0.28" >0</text>
<line x1="411.7" y1="262.64" x2="414.5" y2="262.64" stroke="#222" stroke-width="1" />
<text x="411.9" y="266.14" font-size="8.6" font-weight="bold" fill="#111" text-anchor="end" stroke="#111" stroke-width="0.28" >-20</text>
<line x1="414.92" y1="262.6" x2="414.92" y2="265.2" stroke="#333" stroke-width="1" />
<text x="417.32" y="272.9" font-size="8.8" font-weight="bold" fill="#111" text-anchor="end" stroke="#111" stroke-width="0.28" >-3</text>
<line x1="426.98" y1="262.6" x2="426.98" y2="265.2" stroke="#333" stroke-width="1" />
<text x="429.38" y="272.9" font-size="8.8" font-weight="bold" fill="#111" text-anchor="end" stroke="#111" stroke-width="0.28" >-2</text>
<line x1="439.04" y1="262.6" x2="439.04" y2="265.2" stroke="#333" stroke-width="1" />
<text x="441.44" y="272.9" font-size="8.8" font-weight="bold" fill="#111" text-anchor="end" stroke="#111" stroke-width="0.28" >-1</text>
<line x1="451.1" y1="262.6" x2="451.1" y2="265.2" stroke="#333" stroke-width="1" />
<text x="451.1" y="272.9" font-size="8.8" font-weight="bold" fill="#111" text-anchor="middle" stroke="#111" stroke-width="0.28" >0</text>
<line x1="463.16" y1="262.6" x2="463.16" y2="265.2" stroke="#333" stroke-width="1" />
<text x="463.16" y="272.9" font-size="8.8" font-weight="bold" fill="#111" text-anchor="middle" stroke="#111" stroke-width="0.28" >1</text>
<line x1="475.22" y1="262.6" x2="475.22" y2="265.2" stroke="#333" stroke-width="1" />
<text x="475.22" y="272.9" font-size="8.8" font-weight="bold" fill="#111" text-anchor="middle" stroke="#111" stroke-width="0.28" >2</text>
<line x1="487.28000000000003" y1="262.6" x2="487.28000000000003" y2="265.2" stroke="#333" stroke-width="1" />
<text x="487.28000000000003" y="272.9" font-size="8.8" font-weight="bold" fill="#111" text-anchor="middle" stroke="#111" stroke-width="0.28" >3</text>
<line x1="499.34000000000003" y1="262.6" x2="499.34000000000003" y2="265.2" stroke="#333" stroke-width="1" />
<text x="499.34000000000003" y="272.9" font-size="8.8" font-weight="bold" fill="#111" text-anchor="middle" stroke="#111" stroke-width="0.28" >4</text>
<line x1="511.40000000000003" y1="262.6" x2="511.40000000000003" y2="265.2" stroke="#333" stroke-width="1" />
<text x="511.40000000000003" y="272.9" font-size="8.8" font-weight="bold" fill="#111" text-anchor="middle" stroke="#111" stroke-width="0.28" >5</text>
<line x1="420.7088" y1="250.632" x2="420.7088" y2="254.424" stroke="#2a2aa8" stroke-width="1.1" />
<line x1="419.3088" y1="250.632" x2="422.1088" y2="250.632" stroke="#2a2aa8" stroke-width="1" />
<line x1="419.3088" y1="254.424" x2="422.1088" y2="254.424" stroke="#2a2aa8" stroke-width="1" />
<circle cx="420.71" cy="252.53" r="1.25" fill="#2a2aa8"/>
<line x1="429.1508" y1="252.528" x2="429.1508" y2="253.792" stroke="#2a2aa8" stroke-width="1.1" />
<line x1="427.7508" y1="252.528" x2="430.5508" y2="252.528" stroke="#2a2aa8" stroke-width="1" />
<line x1="427.7508" y1="253.792" x2="430.5508" y2="253.792" stroke="#2a2aa8" stroke-width="1" />
<circle cx="429.15" cy="253.16" r="1.25" fill="#2a2aa8"/>
<line x1="437.5928" y1="252.528" x2="437.5928" y2="255.056" stroke="#2a2aa8" stroke-width="1.1" />
<line x1="436.19280000000003" y1="252.528" x2="438.9928" y2="252.528" stroke="#2a2aa8" stroke-width="1" />
<line x1="436.19280000000003" y1="255.056" x2="438.9928" y2="255.056" stroke="#2a2aa8" stroke-width="1" />
<circle cx="437.59" cy="253.79" r="1.25" fill="#2a2aa8"/>
<line x1="446.0348" y1="252.528" x2="446.0348" y2="253.792" stroke="#2a2aa8" stroke-width="1.1" />
<line x1="444.63480000000004" y1="252.528" x2="447.4348" y2="252.528" stroke="#2a2aa8" stroke-width="1" />
<line x1="444.63480000000004" y1="253.792" x2="447.4348" y2="253.792" stroke="#2a2aa8" stroke-width="1" />
<circle cx="446.03" cy="253.16" r="1.25" fill="#2a2aa8"/>
<line x1="454.4768" y1="252.844" x2="454.4768" y2="254.74" stroke="#2a2aa8" stroke-width="1.1" />
<line x1="453.07680000000005" y1="252.844" x2="455.8768" y2="252.844" stroke="#2a2aa8" stroke-width="1" />
<line x1="453.07680000000005" y1="254.74" x2="455.8768" y2="254.74" stroke="#2a2aa8" stroke-width="1" />
<circle cx="454.48" cy="253.79" r="1.25" fill="#2a2aa8"/>
<line x1="462.91880000000003" y1="251.264" x2="462.91880000000003" y2="255.056" stroke="#2a2aa8" stroke-width="1.1" />
<line x1="461.51880000000006" y1="251.264" x2="464.3188" y2="251.264" stroke="#2a2aa8" stroke-width="1" />
<line x1="461.51880000000006" y1="255.056" x2="464.3188" y2="255.056" stroke="#2a2aa8" stroke-width="1" />
<circle cx="462.92" cy="253.16" r="1.25" fill="#2a2aa8"/>
<line x1="471.36080000000004" y1="251.896" x2="471.36080000000004" y2="256.952" stroke="#2a2aa8" stroke-width="1.1" />
<line x1="469.96080000000006" y1="251.896" x2="472.7608" y2="251.896" stroke="#2a2aa8" stroke-width="1" />
<line x1="469.96080000000006" y1="256.952" x2="472.7608" y2="256.952" stroke="#2a2aa8" stroke-width="1" />
<circle cx="471.36" cy="254.42" r="1.25" fill="#2a2aa8"/>
<line x1="479.80280000000005" y1="251.264" x2="479.80280000000005" y2="255.056" stroke="#2a2aa8" stroke-width="1.1" />
<line x1="478.40280000000007" y1="251.264" x2="481.2028" y2="251.264" stroke="#2a2aa8" stroke-width="1" />
<line x1="478.40280000000007" y1="255.056" x2="481.2028" y2="255.056" stroke="#2a2aa8" stroke-width="1" />
<circle cx="479.80" cy="253.16" r="1.25" fill="#2a2aa8"/>
<line x1="488.2448" y1="249.368" x2="488.2448" y2="254.424" stroke="#2a2aa8" stroke-width="1.1" />
<line x1="486.8448" y1="249.368" x2="489.6448" y2="249.368" stroke="#2a2aa8" stroke-width="1" />
<line x1="486.8448" y1="254.424" x2="489.6448" y2="254.424" stroke="#2a2aa8" stroke-width="1" />
<circle cx="488.24" cy="251.90" r="1.25" fill="#2a2aa8"/>
<line x1="496.6868" y1="250.948" x2="496.6868" y2="252.844" stroke="#2a2aa8" stroke-width="1.1" />
<line x1="495.2868" y1="250.948" x2="498.0868" y2="250.948" stroke="#2a2aa8" stroke-width="1" />
<line x1="495.2868" y1="252.844" x2="498.0868" y2="252.844" stroke="#2a2aa8" stroke-width="1" />
<circle cx="496.69" cy="251.90" r="1.25" fill="#2a2aa8"/>
<line x1="505.1288" y1="248.736" x2="505.1288" y2="253.792" stroke="#2a2aa8" stroke-width="1.1" />
<line x1="503.72880000000004" y1="248.736" x2="506.5288" y2="248.736" stroke="#2a2aa8" stroke-width="1" />
<line x1="503.72880000000004" y1="253.792" x2="506.5288" y2="253.792" stroke="#2a2aa8" stroke-width="1" />
<circle cx="505.13" cy="251.26" r="1.25" fill="#2a2aa8"/>
<text x="427.3" y="202.2" font-size="9.2" font-weight="bold" fill="#2222aa" stroke="#2222aa" stroke-width="0.28" textLength="19.8" lengthAdjust="spacingAndGlyphs">EC<tspan font-size="7.2" dy="2.3">50</tspan></text>
<text x="427.3" y="215.3" font-size="9.4" font-weight="bold" fill="#2222aa" text-anchor="start" textLength="19.1" lengthAdjust="spacingAndGlyphs" stroke="#2222aa" stroke-width="0.28" >N/A</text>
<text x="0" y="0" font-size="10" font-weight="bold" fill="#000" text-anchor="start" textLength="77.5" lengthAdjust="spacingAndGlyphs" stroke="#000" stroke-width="0.28" transform="translate(15.6,261.6) rotate(-90)">Cytotoxicity (%)</text>
<line x1="52" y1="285.3" x2="207.8" y2="285.3" stroke="#000" stroke-width="1.6" />
<line x1="334.8" y1="285.3" x2="496" y2="285.3" stroke="#000" stroke-width="1.6" />
<polygon points="495.2,282.9 499.8,285.3 495.2,287.7" fill="#000"/>
<text x="210.6" y="289.0" font-size="10.4" font-weight="bold" fill="#000" text-anchor="start" textLength="119.8" lengthAdjust="spacingAndGlyphs" stroke="#000" stroke-width="0.28" >Log [AMG 424] (pmol/L)</text>
<text x="69.5" y="313.4" font-size="12.8" font-weight="bold" fill="#000" text-anchor="start" textLength="68.6" lengthAdjust="spacingAndGlyphs" stroke="#000" stroke-width="0.28" >OPM2-Luc</text>
<line x1="35.6" y1="322.0" x2="35.6" y2="462.0" stroke="#222" stroke-width="1.1" />
<line x1="35.1" y1="461.5" x2="176.3" y2="461.5" stroke="#222" stroke-width="1.1" />
<line x1="32.6" y1="461.5" x2="35.6" y2="461.5" stroke="#222" stroke-width="1" />
<text x="16.8" y="464.1" font-size="9.3" font-weight="bold" fill="#111" text-anchor="start" textLength="11.8" lengthAdjust="spacingAndGlyphs" stroke="#111" stroke-width="0.28" >10</text>
<text x="29.0" y="460.3" font-size="6.4" font-weight="bold" fill="#111" text-anchor="start" stroke="#111" stroke-width="0.28" >5</text>
<line x1="34.0" y1="451.03920765067664" x2="35.6" y2="451.03920765067664" stroke="#444" stroke-width="0.7" />
<line x1="34.0" y1="444.92003639849173" x2="35.6" y2="444.92003639849173" stroke="#444" stroke-width="0.7" />
<line x1="34.0" y1="440.5784153013533" x2="35.6" y2="440.5784153013533" stroke="#444" stroke-width="0.7" />
<line x1="34.0" y1="437.21079234932336" x2="35.6" y2="437.21079234932336" stroke="#444" stroke-width="0.7" />
<line x1="34.0" y1="434.4592440491684" x2="35.6" y2="434.4592440491684" stroke="#444" stroke-width="0.7" />
<line x1="34.0" y1="432.13284310950456" x2="35.6" y2="432.13284310950456" stroke="#444" stroke-width="0.7" />
<line x1="34.0" y1="430.11762295202993" x2="35.6" y2="430.11762295202993" stroke="#444" stroke-width="0.7" />
<line x1="34.0" y1="428.34007279698346" x2="35.6" y2="428.34007279698346" stroke="#444" stroke-width="0.7" />
<line x1="32.6" y1="426.75" x2="35.6" y2="426.75" stroke="#222" stroke-width="1" />
<text x="16.8" y="429.35" font-size="9.3" font-weight="bold" fill="#111" text-anchor="start" textLength="11.8" lengthAdjust="spacingAndGlyphs" stroke="#111" stroke-width="0.28" >10</text>
<text x="29.0" y="425.55" font-size="6.4" font-weight="bold" fill="#111" text-anchor="start" stroke="#111" stroke-width="0.28" >6</text>
<line x1="34.0" y1="416.28920765067664" x2="35.6" y2="416.28920765067664" stroke="#444" stroke-width="0.7" />
<line x1="34.0" y1="410.17003639849173" x2="35.6" y2="410.17003639849173" stroke="#444" stroke-width="0.7" />
<line x1="34.0" y1="405.8284153013533" x2="35.6" y2="405.8284153013533" stroke="#444" stroke-width="0.7" />
<line x1="34.0" y1="402.46079234932336" x2="35.6" y2="402.46079234932336" stroke="#444" stroke-width="0.7" />
<line x1="34.0" y1="399.7092440491684" x2="35.6" y2="399.7092440491684" stroke="#444" stroke-width="0.7" />
<line x1="34.0" y1="397.38284310950456" x2="35.6" y2="397.38284310950456" stroke="#444" stroke-width="0.7" />
<line x1="34.0" y1="395.36762295202993" x2="35.6" y2="395.36762295202993" stroke="#444" stroke-width="0.7" />
<line x1="34.0" y1="393.59007279698346" x2="35.6" y2="393.59007279698346" stroke="#444" stroke-width="0.7" />
<line x1="32.6" y1="392.0" x2="35.6" y2="392.0" stroke="#222" stroke-width="1" />
<text x="16.8" y="394.6" font-size="9.3" font-weight="bold" fill="#111" text-anchor="start" textLength="11.8" lengthAdjust="spacingAndGlyphs" stroke="#111" stroke-width="0.28" >10</text>
<text x="29.0" y="390.8" font-size="6.4" font-weight="bold" fill="#111" text-anchor="start" stroke="#111" stroke-width="0.28" >7</text>
<line x1="34.0" y1="381.53920765067664" x2="35.6" y2="381.53920765067664" stroke="#444" stroke-width="0.7" />
<line x1="34.0" y1="375.42003639849173" x2="35.6" y2="375.42003639849173" stroke="#444" stroke-width="0.7" />
<line x1="34.0" y1="371.0784153013533" x2="35.6" y2="371.0784153013533" stroke="#444" stroke-width="0.7" />
<line x1="34.0" y1="367.71079234932336" x2="35.6" y2="367.71079234932336" stroke="#444" stroke-width="0.7" />
<line x1="34.0" y1="364.9592440491684" x2="35.6" y2="364.9592440491684" stroke="#444" stroke-width="0.7" />
<line x1="34.0" y1="362.63284310950456" x2="35.6" y2="362.63284310950456" stroke="#444" stroke-width="0.7" />
<line x1="34.0" y1="360.61762295202993" x2="35.6" y2="360.61762295202993" stroke="#444" stroke-width="0.7" />
<line x1="34.0" y1="358.84007279698346" x2="35.6" y2="358.84007279698346" stroke="#444" stroke-width="0.7" />
<line x1="32.6" y1="357.25" x2="35.6" y2="357.25" stroke="#222" stroke-width="1" />
<text x="16.8" y="359.85" font-size="9.3" font-weight="bold" fill="#111" text-anchor="start" textLength="11.8" lengthAdjust="spacingAndGlyphs" stroke="#111" stroke-width="0.28" >10</text>
<text x="29.0" y="356.05" font-size="6.4" font-weight="bold" fill="#111" text-anchor="start" stroke="#111" stroke-width="0.28" >8</text>
<line x1="34.0" y1="346.78920765067664" x2="35.6" y2="346.78920765067664" stroke="#444" stroke-width="0.7" />
<line x1="34.0" y1="340.67003639849173" x2="35.6" y2="340.67003639849173" stroke="#444" stroke-width="0.7" />
<line x1="34.0" y1="336.3284153013533" x2="35.6" y2="336.3284153013533" stroke="#444" stroke-width="0.7" />
<line x1="34.0" y1="332.96079234932336" x2="35.6" y2="332.96079234932336" stroke="#444" stroke-width="0.7" />
<line x1="34.0" y1="330.2092440491684" x2="35.6" y2="330.2092440491684" stroke="#444" stroke-width="0.7" />
<line x1="34.0" y1="327.88284310950456" x2="35.6" y2="327.88284310950456" stroke="#444" stroke-width="0.7" />
<line x1="34.0" y1="325.86762295202993" x2="35.6" y2="325.86762295202993" stroke="#444" stroke-width="0.7" />
<line x1="34.0" y1="324.09007279698346" x2="35.6" y2="324.09007279698346" stroke="#444" stroke-width="0.7" />
<line x1="32.6" y1="322.5" x2="35.6" y2="322.5" stroke="#222" stroke-width="1" />
<text x="16.8" y="325.1" font-size="9.3" font-weight="bold" fill="#111" text-anchor="start" textLength="11.8" lengthAdjust="spacingAndGlyphs" stroke="#111" stroke-width="0.28" >10</text>
<text x="29.0" y="321.3" font-size="6.4" font-weight="bold" fill="#111" text-anchor="start" stroke="#111" stroke-width="0.28" >9</text>
<line x1="35.6" y1="461.5" x2="35.6" y2="464.3" stroke="#222" stroke-width="1" />
<text x="35.6" y="474.6" font-size="9.8" font-weight="bold" fill="#111" text-anchor="middle" stroke="#111" stroke-width="0.28" >5</text>
<line x1="42.58" y1="461.5" x2="42.58" y2="463.0" stroke="#444" stroke-width="0.8" />
<line x1="49.56" y1="461.5" x2="49.56" y2="463.0" stroke="#444" stroke-width="0.8" />
<line x1="56.540000000000006" y1="461.5" x2="56.540000000000006" y2="463.0" stroke="#444" stroke-width="0.8" />
<line x1="63.52" y1="461.5" x2="63.52" y2="463.0" stroke="#444" stroke-width="0.8" />
<line x1="70.5" y1="461.5" x2="70.5" y2="464.3" stroke="#222" stroke-width="1" />
<text x="70.5" y="474.6" font-size="9.8" font-weight="bold" fill="#111" text-anchor="middle" stroke="#111" stroke-width="0.28" >10</text>
<line x1="77.48" y1="461.5" x2="77.48" y2="463.0" stroke="#444" stroke-width="0.8" />
<line x1="84.46000000000001" y1="461.5" x2="84.46000000000001" y2="463.0" stroke="#444" stroke-width="0.8" />
<line x1="91.44" y1="461.5" x2="91.44" y2="463.0" stroke="#444" stroke-width="0.8" />
<line x1="98.42000000000002" y1="461.5" x2="98.42000000000002" y2="463.0" stroke="#444" stroke-width="0.8" />
<line x1="105.4" y1="461.5" x2="105.4" y2="464.3" stroke="#222" stroke-width="1" />
<text x="105.4" y="474.6" font-size="9.8" font-weight="bold" fill="#111" text-anchor="middle" stroke="#111" stroke-width="0.28" >15</text>
<line x1="112.38" y1="461.5" x2="112.38" y2="463.0" stroke="#444" stroke-width="0.8" />
<line x1="119.36000000000001" y1="461.5" x2="119.36000000000001" y2="463.0" stroke="#444" stroke-width="0.8" />
<line x1="126.34" y1="461.5" x2="126.34" y2="463.0" stroke="#444" stroke-width="0.8" />
<line x1="133.32" y1="461.5" x2="133.32" y2="463.0" stroke="#444" stroke-width="0.8" />
<line x1="140.3" y1="461.5" x2="140.3" y2="464.3" stroke="#222" stroke-width="1" />
<text x="140.3" y="474.6" font-size="9.8" font-weight="bold" fill="#111" text-anchor="middle" stroke="#111" stroke-width="0.28" >20</text>
<line x1="147.28" y1="461.5" x2="147.28" y2="463.0" stroke="#444" stroke-width="0.8" />
<line x1="154.26000000000002" y1="461.5" x2="154.26000000000002" y2="463.0" stroke="#444" stroke-width="0.8" />
<line x1="161.24" y1="461.5" x2="161.24" y2="463.0" stroke="#444" stroke-width="0.8" />
<line x1="168.22" y1="461.5" x2="168.22" y2="463.0" stroke="#444" stroke-width="0.8" />
<line x1="175.20000000000002" y1="461.5" x2="175.20000000000002" y2="464.3" stroke="#222" stroke-width="1" />
<text x="175.20000000000002" y="474.6" font-size="9.8" font-weight="bold" fill="#111" text-anchor="middle" stroke="#111" stroke-width="0.28" >25</text>
<line x1="99.2" y1="424.2" x2="99.2" y2="428.3" stroke="#e8a040" stroke-width="1" />
<line x1="97.6" y1="424.2" x2="100.8" y2="424.2" stroke="#e8a040" stroke-width="1" />
<polyline points="49.60,423.40 99.20,428.30 127.30,434.50 148.80,433.40" fill="none" stroke="#e8a040" stroke-width="1.1"/>
<polygon points="49.6,426.28 52.36,421.47999999999996 46.84,421.47999999999996" fill="#e8a040"/>
<polygon points="99.2,431.18 101.96000000000001,426.38 96.44,426.38" fill="#e8a040"/>
<polygon points="127.3,437.38 130.06,432.58 124.53999999999999,432.58" fill="#e8a040"/>
<polygon points="148.8,436.28 151.56,431.47999999999996 146.04000000000002,431.47999999999996" fill="#e8a040"/>
<polyline points="49.60,424.00 99.20,434.70 127.30,436.40 148.80,435.60" fill="none" stroke="#2fc02f" stroke-width="1.1"/>
<rect x="47.2" y="421.6" width="4.8" height="4.8" fill="#2fc02f"/>
<rect x="96.8" y="432.3" width="4.8" height="4.8" fill="#2fc02f"/>
<rect x="124.89999999999999" y="434.0" width="4.8" height="4.8" fill="#2fc02f"/>
<rect x="146.4" y="433.20000000000005" width="4.8" height="4.8" fill="#2fc02f"/>
<polyline points="49.60,425.40 99.20,437.60 127.30,437.60 148.80,436.40" fill="none" stroke="#2020d0" stroke-width="1.1"/>
<polygon points="49.6,422.52 52.36,427.32 46.84,427.32" fill="#2020d0"/>
<polygon points="99.2,434.72 101.96000000000001,439.52000000000004 96.44,439.52000000000004" fill="#2020d0"/>
<polygon points="127.3,434.72 130.06,439.52000000000004 124.53999999999999,439.52000000000004" fill="#2020d0"/>
<polygon points="148.8,433.52 151.56,438.32 146.04000000000002,438.32" fill="#2020d0"/>
<polyline points="49.60,422.00 99.20,400.20 127.30,373.90 148.80,355.30" fill="none" stroke="#000000" stroke-width="1.1"/>
<circle cx="49.6" cy="422.0" r="2.4" fill="#000000"/>
<circle cx="99.2" cy="400.2" r="2.4" fill="#000000"/>
<circle cx="127.3" cy="373.9" r="2.4" fill="#000000"/>
<circle cx="148.8" cy="355.3" r="2.4" fill="#000000"/>
<line x1="40.8" y1="325.6" x2="50.4" y2="325.6" stroke="#000000" stroke-width="1.1" />
<circle cx="45.6" cy="325.6" r="2.4" fill="#000000"/>
<text x="54.3" y="328.5" font-size="8.4" font-weight="bold" fill="#000" text-anchor="start" textLength="29.1" lengthAdjust="spacingAndGlyphs" stroke="#000" stroke-width="0.28" >Vehicle</text>
<line x1="40.8" y1="337.7" x2="50.4" y2="337.7" stroke="#e8a040" stroke-width="1.1" />
<polygon points="45.6,340.58 48.36,335.78 42.84,335.78" fill="#e8a040"/>
<text x="54.3" y="340.4" font-size="8.4" font-weight="bold" fill="#000" text-anchor="start" textLength="76.6" lengthAdjust="spacingAndGlyphs" stroke="#000" stroke-width="0.28" >AMG 424 0.1 mg/kg</text>
<line x1="40.8" y1="349.6" x2="50.4" y2="349.6" stroke="#2020d0" stroke-width="1.1" />
<polygon points="45.6,346.72 48.36,351.52000000000004 42.84,351.52000000000004" fill="#2020d0"/>
<text x="54.3" y="352.1" font-size="8.4" font-weight="bold" fill="#000" text-anchor="start" textLength="69.8" lengthAdjust="spacingAndGlyphs" stroke="#000" stroke-width="0.28" >AMG 424 1 mg/kg</text>
<line x1="40.8" y1="361.2" x2="50.4" y2="361.2" stroke="#2fc02f" stroke-width="1.1" />
<rect x="43.2" y="358.8" width="4.8" height="4.8" fill="#2fc02f"/>
<text x="54.3" y="363.7" font-size="8.4" font-weight="bold" fill="#000" text-anchor="start" textLength="75.19999999999999" lengthAdjust="spacingAndGlyphs" stroke="#000" stroke-width="0.28" >AMG 424 10 mg/kg</text>
<text x="0" y="0" font-size="9.7" font-weight="bold" fill="#000" text-anchor="start" textLength="148.5" lengthAdjust="spacingAndGlyphs" stroke="#000" stroke-width="0.28" transform="translate(7.1,462.9) rotate(-90)">Bioluminescence (photons/sec)</text>
<text x="13.3" y="490.2" font-size="12" font-weight="bold" fill="#b0141e" text-anchor="start" textLength="7.2" lengthAdjust="spacingAndGlyphs" stroke="#b0141e" stroke-width="0.28" >R</text>
<text x="20.2" y="493.4" font-size="8" font-weight="bold" fill="#b0141e" text-anchor="start" textLength="5.2" lengthAdjust="spacingAndGlyphs" stroke="#b0141e" stroke-width="0.28" >x</text>
<polygon points="49.9,478.6 52.4,482 51.3,482 51.3,492.8 48.5,492.8 48.5,482 47.4,482" fill="#b0141e"/>
<polygon points="99.6,478.6 102.1,482 101.0,482 101.0,492.8 98.19999999999999,492.8 98.19999999999999,482 97.1,482" fill="#b0141e"/>
<text x="33.4" y="506.5" font-size="10" font-weight="bold" fill="#000" text-anchor="start" textLength="145.8" lengthAdjust="spacingAndGlyphs" stroke="#000" stroke-width="0.28" >Days (after tumor implantation)</text>
<defs>
<filter id="bl1" x="-50%" y="-50%" width="200%" height="200%"><feGaussianBlur stdDeviation="0.7"/></filter>
<filter id="bl2" x="-50%" y="-50%" width="200%" height="200%"><feGaussianBlur stdDeviation="1.1"/></filter>
<filter id="bl05" x="-20%" y="-20%" width="140%" height="140%"><feGaussianBlur stdDeviation="0.45"/></filter>
<radialGradient id="mg" cx="0.5" cy="0.6" r="0.6"><stop offset="0" stop-color="#f4f2f6"/><stop offset="0.7" stop-color="#e2e0e6"/><stop offset="1" stop-color="#b0b0b4"/></radialGradient>
<radialGradient id="mg2" cx="0.5" cy="0.6" r="0.6"><stop offset="0" stop-color="#eeeeee"/><stop offset="0.7" stop-color="#d2d2d2"/><stop offset="1" stop-color="#9a9a9a"/></radialGradient>
<radialGradient id="pg" cx="0.5" cy="0.45" r="0.6"><stop offset="0" stop-color="#9a6ae8"/><stop offset="0.75" stop-color="#7a3ee0"/><stop offset="1" stop-color="#5a28c8"/></radialGradient>
</defs>
<rect x="225.0" y="313.7" width="103.0" height="40.7" fill="#202020" stroke="none" stroke-width="0" />
<rect x="224.70" y="313.7" width="3.6" height="34.59" fill="#484848" filter="url(#bl1)"/>
<rect x="243.60" y="313.7" width="3.6" height="34.59" fill="#484848" filter="url(#bl1)"/>
<rect x="263.20" y="313.7" width="3.6" height="34.59" fill="#484848" filter="url(#bl1)"/>
<rect x="283.15" y="313.7" width="3.6" height="34.59" fill="#484848" filter="url(#bl1)"/>
<rect x="302.80" y="313.7" width="3.6" height="34.59" fill="#484848" filter="url(#bl1)"/>
<rect x="324.70" y="313.7" width="3.6" height="34.59" fill="#484848" filter="url(#bl1)"/>
<path d="M235.80,315.33 C236.23,315.33 236.60,316.60 237.10,317.77 C237.60,318.94 238.27,320.82 238.80,322.35 C239.33,323.88 239.82,325.32 240.30,326.93 C240.78,328.54 241.20,330.15 241.70,332.01 C242.20,333.88 242.80,336.09 243.30,338.12 C243.80,340.15 244.48,342.53 244.70,344.22 C244.92,345.92 245.25,347.18 244.60,348.29 C243.95,349.41 243.10,350.50 240.80,350.94 C238.50,351.38 233.10,351.38 230.80,350.94 C228.50,350.50 227.65,349.41 227.00,348.29 C226.35,347.18 226.68,345.92 226.90,344.22 C227.12,342.53 227.80,340.15 228.30,338.12 C228.80,336.09 229.40,333.88 229.90,332.01 C230.40,330.15 230.82,328.54 231.30,326.93 C231.78,325.32 232.27,323.88 232.80,322.35 C233.33,320.82 234.00,318.94 234.50,317.77 C235.00,316.60 235.37,315.33 235.80,315.33 Z" fill="url(#mg)" filter="url(#bl05)"/>
<path d="M235.80,315.70 L238.80,323.70 L232.80,323.70 Z" fill="#a0a0a0" opacity="0.75" filter="url(#bl1)"/>
<ellipse cx="235.32" cy="338.01" rx="2.11" ry="1.56" fill="#b4b4c0" opacity="0.6" filter="url(#bl1)"/>
<ellipse cx="235.88" cy="338.62" rx="1.22" ry="1.61" fill="#b4b4c0" opacity="0.6" filter="url(#bl1)"/>
<ellipse cx="237.10" cy="343.15" rx="1.11" ry="1.36" fill="#b4b4c0" opacity="0.6" filter="url(#bl1)"/>
<ellipse cx="231.71" cy="343.51" rx="1.83" ry="1.05" fill="#b4b4c0" opacity="0.6" filter="url(#bl1)"/>
<ellipse cx="236.54" cy="335.46" rx="4.95" ry="3.52" fill="#4224e0" filter="url(#bl1)"/>
<ellipse cx="234.09" cy="333.26" rx="2.4" ry="2.0" fill="#4a2ae0" opacity="0.85" filter="url(#bl1)"/>
<ellipse cx="233.86" cy="330.96" rx="2.6" ry="1.8" fill="#8a70f0" opacity="0.7" filter="url(#bl1)"/>
<ellipse cx="228.20" cy="344.20" rx="2.9" ry="2.6" fill="#3420e8" filter="url(#bl1)"/>
<ellipse cx="242.80" cy="344.70" rx="2.9" ry="2.6" fill="#3420e8" filter="url(#bl1)"/>
<ellipse cx="235.80" cy="349.30" rx="3" ry="1.5" fill="#7a60e0" opacity="0.5" filter="url(#bl1)"/>
<ellipse cx="231.80" cy="352.00" rx="1.8" ry="1.2" fill="#5038c8" opacity="0.6" filter="url(#bl1)"/>
<path d="M255.00,315.33 C255.43,315.33 255.80,316.60 256.30,317.77 C256.80,318.94 257.47,320.82 258.00,322.35 C258.53,323.88 259.02,325.32 259.50,326.93 C259.98,328.54 260.40,330.15 260.90,332.01 C261.40,333.88 262.00,336.09 262.50,338.12 C263.00,340.15 263.68,342.53 263.90,344.22 C264.12,345.92 264.45,347.18 263.80,348.29 C263.15,349.41 262.30,350.50 260.00,350.94 C257.70,351.38 252.30,351.38 250.00,350.94 C247.70,350.50 246.85,349.41 246.20,348.29 C245.55,347.18 245.88,345.92 246.10,344.22 C246.32,342.53 247.00,340.15 247.50,338.12 C248.00,336.09 248.60,333.88 249.10,332.01 C249.60,330.15 250.02,328.54 250.50,326.93 C250.98,325.32 251.47,323.88 252.00,322.35 C252.53,320.82 253.20,318.94 253.70,317.77 C254.20,316.60 254.57,315.33 255.00,315.33 Z" fill="url(#mg)" filter="url(#bl05)"/>
<path d="M255.00,315.70 L258.00,323.70 L252.00,323.70 Z" fill="#a0a0a0" opacity="0.75" filter="url(#bl1)"/>
<ellipse cx="250.60" cy="329.88" rx="1.29" ry="1.04" fill="#b4b4c0" opacity="0.6" filter="url(#bl1)"/>
<ellipse cx="254.64" cy="335.39" rx="2.01" ry="1.62" fill="#b4b4c0" opacity="0.6" filter="url(#bl1)"/>
<ellipse cx="256.40" cy="336.70" rx="1.79" ry="1.55" fill="#b4b4c0" opacity="0.6" filter="url(#bl1)"/>
<ellipse cx="252.78" cy="347.65" rx="2.19" ry="2.01" fill="#b4b4c0" opacity="0.6" filter="url(#bl1)"/>
<ellipse cx="254.70" cy="334.92" rx="4.40" ry="3.19" fill="#4224e0" filter="url(#bl1)"/>
<ellipse cx="252.85" cy="332.72" rx="2.4" ry="2.0" fill="#4a2ae0" opacity="0.85" filter="url(#bl1)"/>
<ellipse cx="256.07" cy="330.42" rx="2.6" ry="1.8" fill="#8a70f0" opacity="0.7" filter="url(#bl1)"/>
<ellipse cx="247.40" cy="344.20" rx="2.9" ry="2.6" fill="#3420e8" filter="url(#bl1)"/>
<ellipse cx="262.00" cy="344.70" rx="2.9" ry="2.6" fill="#3420e8" filter="url(#bl1)"/>
<ellipse cx="255.00" cy="349.30" rx="3" ry="1.5" fill="#7a60e0" opacity="0.5" filter="url(#bl1)"/>
<ellipse cx="259.00" cy="352.00" rx="1.8" ry="1.2" fill="#5038c8" opacity="0.6" filter="url(#bl1)"/>
<path d="M275.00,315.33 C275.43,315.33 275.80,316.60 276.30,317.77 C276.80,318.94 277.47,320.82 278.00,322.35 C278.53,323.88 279.02,325.32 279.50,326.93 C279.98,328.54 280.40,330.15 280.90,332.01 C281.40,333.88 282.00,336.09 282.50,338.12 C283.00,340.15 283.68,342.53 283.90,344.22 C284.12,345.92 284.45,347.18 283.80,348.29 C283.15,349.41 282.30,350.50 280.00,350.94 C277.70,351.38 272.30,351.38 270.00,350.94 C267.70,350.50 266.85,349.41 266.20,348.29 C265.55,347.18 265.88,345.92 266.10,344.22 C266.32,342.53 267.00,340.15 267.50,338.12 C268.00,336.09 268.60,333.88 269.10,332.01 C269.60,330.15 270.02,328.54 270.50,326.93 C270.98,325.32 271.47,323.88 272.00,322.35 C272.53,320.82 273.20,318.94 273.70,317.77 C274.20,316.60 274.57,315.33 275.00,315.33 Z" fill="url(#mg)" filter="url(#bl05)"/>
<path d="M275.00,315.70 L278.00,323.70 L272.00,323.70 Z" fill="#a0a0a0" opacity="0.75" filter="url(#bl1)"/>
<ellipse cx="271.08" cy="332.10" rx="1.08" ry="1.02" fill="#b4b4c0" opacity="0.6" filter="url(#bl1)"/>
<ellipse cx="276.85" cy="330.40" rx="2.11" ry="1.06" fill="#b4b4c0" opacity="0.6" filter="url(#bl1)"/>
<ellipse cx="273.75" cy="341.30" rx="1.50" ry="1.68" fill="#b4b4c0" opacity="0.6" filter="url(#bl1)"/>
<ellipse cx="271.98" cy="340.55" rx="1.40" ry="1.37" fill="#b4b4c0" opacity="0.6" filter="url(#bl1)"/>
<ellipse cx="274.86" cy="333.53" rx="5.30" ry="3.03" fill="#4224e0" filter="url(#bl1)"/>
<ellipse cx="276.04" cy="331.33" rx="2.4" ry="2.0" fill="#4a2ae0" opacity="0.85" filter="url(#bl1)"/>
<ellipse cx="273.04" cy="329.03" rx="2.6" ry="1.8" fill="#8a70f0" opacity="0.7" filter="url(#bl1)"/>
<ellipse cx="267.40" cy="344.20" rx="2.9" ry="2.6" fill="#3420e8" filter="url(#bl1)"/>
<ellipse cx="282.00" cy="344.70" rx="2.9" ry="2.6" fill="#3420e8" filter="url(#bl1)"/>
<ellipse cx="275.00" cy="349.30" rx="3" ry="1.5" fill="#7a60e0" opacity="0.5" filter="url(#bl1)"/>
<ellipse cx="279.00" cy="352.00" rx="1.8" ry="1.2" fill="#5038c8" opacity="0.6" filter="url(#bl1)"/>
<path d="M294.90,315.33 C295.33,315.33 295.70,316.60 296.20,317.77 C296.70,318.94 297.37,320.82 297.90,322.35 C298.43,323.88 298.92,325.32 299.40,326.93 C299.88,328.54 300.30,330.15 300.80,332.01 C301.30,333.88 301.90,336.09 302.40,338.12 C302.90,340.15 303.58,342.53 303.80,344.22 C304.02,345.92 304.35,347.18 303.70,348.29 C303.05,349.41 302.20,350.50 299.90,350.94 C297.60,351.38 292.20,351.38 289.90,350.94 C287.60,350.50 286.75,349.41 286.10,348.29 C285.45,347.18 285.78,345.92 286.00,344.22 C286.22,342.53 286.90,340.15 287.40,338.12 C287.90,336.09 288.50,333.88 289.00,332.01 C289.50,330.15 289.92,328.54 290.40,326.93 C290.88,325.32 291.37,323.88 291.90,322.35 C292.43,320.82 293.10,318.94 293.60,317.77 C294.10,316.60 294.47,315.33 294.90,315.33 Z" fill="url(#mg)" filter="url(#bl05)"/>
<path d="M294.90,315.70 L297.90,323.70 L291.90,323.70 Z" fill="#a0a0a0" opacity="0.75" filter="url(#bl1)"/>
<ellipse cx="297.87" cy="329.61" rx="1.67" ry="1.54" fill="#b4b4c0" opacity="0.6" filter="url(#bl1)"/>
<ellipse cx="291.81" cy="341.80" rx="1.16" ry="1.77" fill="#b4b4c0" opacity="0.6" filter="url(#bl1)"/>
<ellipse cx="291.07" cy="334.96" rx="1.26" ry="1.32" fill="#b4b4c0" opacity="0.6" filter="url(#bl1)"/>
<ellipse cx="299.61" cy="343.38" rx="1.36" ry="2.06" fill="#b4b4c0" opacity="0.6" filter="url(#bl1)"/>
<ellipse cx="294.73" cy="333.92" rx="5.21" ry="3.54" fill="#4224e0" filter="url(#bl1)"/>
<ellipse cx="292.90" cy="331.72" rx="2.4" ry="2.0" fill="#4a2ae0" opacity="0.85" filter="url(#bl1)"/>
<ellipse cx="296.86" cy="329.42" rx="2.6" ry="1.8" fill="#8a70f0" opacity="0.7" filter="url(#bl1)"/>
<ellipse cx="287.30" cy="344.20" rx="2.9" ry="2.6" fill="#3420e8" filter="url(#bl1)"/>
<ellipse cx="301.90" cy="344.70" rx="2.9" ry="2.6" fill="#3420e8" filter="url(#bl1)"/>
<ellipse cx="294.90" cy="349.30" rx="3" ry="1.5" fill="#7a60e0" opacity="0.5" filter="url(#bl1)"/>
<ellipse cx="290.90" cy="352.00" rx="1.8" ry="1.2" fill="#5038c8" opacity="0.6" filter="url(#bl1)"/>
<path d="M314.30,315.33 C314.73,315.33 315.10,316.60 315.60,317.77 C316.10,318.94 316.77,320.82 317.30,322.35 C317.83,323.88 318.32,325.32 318.80,326.93 C319.28,328.54 319.70,330.15 320.20,332.01 C320.70,333.88 321.30,336.09 321.80,338.12 C322.30,340.15 322.98,342.53 323.20,344.22 C323.42,345.92 323.75,347.18 323.10,348.29 C322.45,349.41 321.60,350.50 319.30,350.94 C317.00,351.38 311.60,351.38 309.30,350.94 C307.00,350.50 306.15,349.41 305.50,348.29 C304.85,347.18 305.18,345.92 305.40,344.22 C305.62,342.53 306.30,340.15 306.80,338.12 C307.30,336.09 307.90,333.88 308.40,332.01 C308.90,330.15 309.32,328.54 309.80,326.93 C310.28,325.32 310.77,323.88 311.30,322.35 C311.83,320.82 312.50,318.94 313.00,317.77 C313.50,316.60 313.87,315.33 314.30,315.33 Z" fill="url(#mg)" filter="url(#bl05)"/>
<path d="M314.30,315.70 L317.30,323.70 L311.30,323.70 Z" fill="#a0a0a0" opacity="0.75" filter="url(#bl1)"/>
<ellipse cx="313.72" cy="325.91" rx="1.73" ry="2.00" fill="#b4b4c0" opacity="0.6" filter="url(#bl1)"/>
<ellipse cx="313.16" cy="327.33" rx="1.25" ry="1.76" fill="#b4b4c0" opacity="0.6" filter="url(#bl1)"/>
<ellipse cx="309.46" cy="333.81" rx="1.75" ry="1.15" fill="#b4b4c0" opacity="0.6" filter="url(#bl1)"/>
<ellipse cx="315.17" cy="344.01" rx="1.16" ry="1.46" fill="#b4b4c0" opacity="0.6" filter="url(#bl1)"/>
<ellipse cx="314.00" cy="334.75" rx="4.40" ry="3.51" fill="#4224e0" filter="url(#bl1)"/>
<ellipse cx="315.43" cy="332.55" rx="2.4" ry="2.0" fill="#4a2ae0" opacity="0.85" filter="url(#bl1)"/>
<ellipse cx="312.93" cy="330.25" rx="2.6" ry="1.8" fill="#8a70f0" opacity="0.7" filter="url(#bl1)"/>
<ellipse cx="306.70" cy="344.20" rx="2.9" ry="2.6" fill="#3420e8" filter="url(#bl1)"/>
<ellipse cx="321.30" cy="344.70" rx="2.9" ry="2.6" fill="#3420e8" filter="url(#bl1)"/>
<ellipse cx="314.30" cy="349.30" rx="3" ry="1.5" fill="#7a60e0" opacity="0.5" filter="url(#bl1)"/>
<ellipse cx="310.30" cy="352.00" rx="1.8" ry="1.2" fill="#5038c8" opacity="0.6" filter="url(#bl1)"/>
<rect x="225.0" y="351.80" width="103.0" height="2.6" fill="#1a1a1a" opacity="0.75"/>
<rect x="225.0" y="361.1" width="103.0" height="40.7" fill="#202020" stroke="none" stroke-width="0" />
<rect x="224.70" y="361.1" width="3.6" height="34.59" fill="#484848" filter="url(#bl1)"/>
<rect x="242.60" y="361.1" width="3.6" height="34.59" fill="#484848" filter="url(#bl1)"/>
<rect x="262.25" y="361.1" width="3.6" height="34.59" fill="#484848" filter="url(#bl1)"/>
<rect x="281.80" y="361.1" width="3.6" height="34.59" fill="#484848" filter="url(#bl1)"/>
<rect x="301.40" y="361.1" width="3.6" height="34.59" fill="#484848" filter="url(#bl1)"/>
<rect x="324.70" y="361.1" width="3.6" height="34.59" fill="#484848" filter="url(#bl1)"/>
<path d="M234.60,362.73 C235.03,362.73 235.40,364.00 235.90,365.17 C236.40,366.34 237.07,368.22 237.60,369.75 C238.13,371.28 238.62,372.72 239.10,374.33 C239.58,375.94 240.00,377.55 240.50,379.42 C241.00,381.28 241.60,383.49 242.10,385.52 C242.60,387.56 243.28,389.93 243.50,391.62 C243.72,393.32 244.05,394.58 243.40,395.70 C242.75,396.81 241.90,397.90 239.60,398.34 C237.30,398.78 231.90,398.78 229.60,398.34 C227.30,397.90 226.45,396.81 225.80,395.70 C225.15,394.58 225.48,393.32 225.70,391.62 C225.92,389.93 226.60,387.56 227.10,385.52 C227.60,383.49 228.20,381.28 228.70,379.42 C229.20,377.55 229.62,375.94 230.10,374.33 C230.58,372.72 231.07,371.28 231.60,369.75 C232.13,368.22 232.80,366.34 233.30,365.17 C233.80,364.00 234.17,362.73 234.60,362.73 Z" fill="url(#mg)" filter="url(#bl05)"/>
<path d="M234.60,363.10 L237.60,371.10 L231.60,371.10 Z" fill="#a0a0a0" opacity="0.75" filter="url(#bl1)"/>
<ellipse cx="236.47" cy="381.64" rx="1.58" ry="1.09" fill="#b4b4c0" opacity="0.6" filter="url(#bl1)"/>
<ellipse cx="230.07" cy="375.50" rx="1.61" ry="1.31" fill="#b4b4c0" opacity="0.6" filter="url(#bl1)"/>
<ellipse cx="237.00" cy="381.72" rx="1.50" ry="2.09" fill="#b4b4c0" opacity="0.6" filter="url(#bl1)"/>
<ellipse cx="234.51" cy="384.54" rx="2.12" ry="2.17" fill="#b4b4c0" opacity="0.6" filter="url(#bl1)"/>
<ellipse cx="234.57" cy="381.15" rx="4.95" ry="3.52" fill="#4224e0" filter="url(#bl1)"/>
<ellipse cx="232.47" cy="378.95" rx="2.4" ry="2.0" fill="#4a2ae0" opacity="0.85" filter="url(#bl1)"/>
<ellipse cx="233.45" cy="376.65" rx="2.6" ry="1.8" fill="#8a70f0" opacity="0.7" filter="url(#bl1)"/>
<ellipse cx="227.00" cy="391.60" rx="2.9" ry="2.6" fill="#3420e8" filter="url(#bl1)"/>
<ellipse cx="241.60" cy="392.10" rx="2.9" ry="2.6" fill="#3420e8" filter="url(#bl1)"/>
<ellipse cx="234.60" cy="396.70" rx="3" ry="1.5" fill="#7a60e0" opacity="0.5" filter="url(#bl1)"/>
<ellipse cx="230.60" cy="399.40" rx="1.8" ry="1.2" fill="#5038c8" opacity="0.6" filter="url(#bl1)"/>
<path d="M254.20,362.73 C254.63,362.73 255.00,364.00 255.50,365.17 C256.00,366.34 256.67,368.22 257.20,369.75 C257.73,371.28 258.22,372.72 258.70,374.33 C259.18,375.94 259.60,377.55 260.10,379.42 C260.60,381.28 261.20,383.49 261.70,385.52 C262.20,387.56 262.88,389.93 263.10,391.62 C263.32,393.32 263.65,394.58 263.00,395.70 C262.35,396.81 261.50,397.90 259.20,398.34 C256.90,398.78 251.50,398.78 249.20,398.34 C246.90,397.90 246.05,396.81 245.40,395.70 C244.75,394.58 245.08,393.32 245.30,391.62 C245.52,389.93 246.20,387.56 246.70,385.52 C247.20,383.49 247.80,381.28 248.30,379.42 C248.80,377.55 249.22,375.94 249.70,374.33 C250.18,372.72 250.67,371.28 251.20,369.75 C251.73,368.22 252.40,366.34 252.90,365.17 C253.40,364.00 253.77,362.73 254.20,362.73 Z" fill="url(#mg)" filter="url(#bl05)"/>
<path d="M254.20,363.10 L257.20,371.10 L251.20,371.10 Z" fill="#a0a0a0" opacity="0.75" filter="url(#bl1)"/>
<ellipse cx="256.69" cy="374.62" rx="1.49" ry="1.30" fill="#b4b4c0" opacity="0.6" filter="url(#bl1)"/>
<ellipse cx="249.67" cy="379.30" rx="1.64" ry="2.17" fill="#b4b4c0" opacity="0.6" filter="url(#bl1)"/>
<ellipse cx="250.12" cy="376.14" rx="1.54" ry="1.40" fill="#b4b4c0" opacity="0.6" filter="url(#bl1)"/>
<ellipse cx="256.53" cy="384.58" rx="2.14" ry="1.71" fill="#b4b4c0" opacity="0.6" filter="url(#bl1)"/>
<ellipse cx="254.16" cy="382.75" rx="4.56" ry="3.21" fill="#4224e0" filter="url(#bl1)"/>
<ellipse cx="251.87" cy="380.55" rx="2.4" ry="2.0" fill="#4a2ae0" opacity="0.85" filter="url(#bl1)"/>
<ellipse cx="254.59" cy="378.25" rx="2.6" ry="1.8" fill="#8a70f0" opacity="0.7" filter="url(#bl1)"/>
<ellipse cx="246.60" cy="391.60" rx="2.9" ry="2.6" fill="#3420e8" filter="url(#bl1)"/>
<ellipse cx="261.20" cy="392.10" rx="2.9" ry="2.6" fill="#3420e8" filter="url(#bl1)"/>
<ellipse cx="254.20" cy="396.70" rx="3" ry="1.5" fill="#7a60e0" opacity="0.5" filter="url(#bl1)"/>
<ellipse cx="250.20" cy="399.40" rx="1.8" ry="1.2" fill="#5038c8" opacity="0.6" filter="url(#bl1)"/>
<path d="M273.90,362.73 C274.33,362.73 274.70,364.00 275.20,365.17 C275.70,366.34 276.37,368.22 276.90,369.75 C277.43,371.28 277.92,372.72 278.40,374.33 C278.88,375.94 279.30,377.55 279.80,379.42 C280.30,381.28 280.90,383.49 281.40,385.52 C281.90,387.56 282.58,389.93 282.80,391.62 C283.02,393.32 283.35,394.58 282.70,395.70 C282.05,396.81 281.20,397.90 278.90,398.34 C276.60,398.78 271.20,398.78 268.90,398.34 C266.60,397.90 265.75,396.81 265.10,395.70 C264.45,394.58 264.78,393.32 265.00,391.62 C265.22,389.93 265.90,387.56 266.40,385.52 C266.90,383.49 267.50,381.28 268.00,379.42 C268.50,377.55 268.92,375.94 269.40,374.33 C269.88,372.72 270.37,371.28 270.90,369.75 C271.43,368.22 272.10,366.34 272.60,365.17 C273.10,364.00 273.47,362.73 273.90,362.73 Z" fill="url(#mg)" filter="url(#bl05)"/>
<path d="M273.90,363.10 L276.90,371.10 L270.90,371.10 Z" fill="#a0a0a0" opacity="0.75" filter="url(#bl1)"/>
<ellipse cx="273.72" cy="389.17" rx="1.38" ry="2.20" fill="#b4b4c0" opacity="0.6" filter="url(#bl1)"/>
<ellipse cx="269.65" cy="385.11" rx="1.88" ry="2.08" fill="#b4b4c0" opacity="0.6" filter="url(#bl1)"/>
<ellipse cx="276.27" cy="388.58" rx="1.95" ry="2.10" fill="#b4b4c0" opacity="0.6" filter="url(#bl1)"/>
<ellipse cx="272.42" cy="388.17" rx="2.08" ry="2.05" fill="#b4b4c0" opacity="0.6" filter="url(#bl1)"/>
<ellipse cx="274.36" cy="381.73" rx="5.22" ry="3.47" fill="#4224e0" filter="url(#bl1)"/>
<ellipse cx="274.52" cy="379.53" rx="2.4" ry="2.0" fill="#4a2ae0" opacity="0.85" filter="url(#bl1)"/>
<ellipse cx="273.43" cy="377.23" rx="2.6" ry="1.8" fill="#8a70f0" opacity="0.7" filter="url(#bl1)"/>
<ellipse cx="266.30" cy="391.60" rx="2.9" ry="2.6" fill="#3420e8" filter="url(#bl1)"/>
<ellipse cx="280.90" cy="392.10" rx="2.9" ry="2.6" fill="#3420e8" filter="url(#bl1)"/>
<ellipse cx="273.90" cy="396.70" rx="3" ry="1.5" fill="#7a60e0" opacity="0.5" filter="url(#bl1)"/>
<ellipse cx="269.90" cy="399.40" rx="1.8" ry="1.2" fill="#5038c8" opacity="0.6" filter="url(#bl1)"/>
<path d="M293.30,362.73 C293.73,362.73 294.10,364.00 294.60,365.17 C295.10,366.34 295.77,368.22 296.30,369.75 C296.83,371.28 297.32,372.72 297.80,374.33 C298.28,375.94 298.70,377.55 299.20,379.42 C299.70,381.28 300.30,383.49 300.80,385.52 C301.30,387.56 301.98,389.93 302.20,391.62 C302.42,393.32 302.75,394.58 302.10,395.70 C301.45,396.81 300.60,397.90 298.30,398.34 C296.00,398.78 290.60,398.78 288.30,398.34 C286.00,397.90 285.15,396.81 284.50,395.70 C283.85,394.58 284.18,393.32 284.40,391.62 C284.62,389.93 285.30,387.56 285.80,385.52 C286.30,383.49 286.90,381.28 287.40,379.42 C287.90,377.55 288.32,375.94 288.80,374.33 C289.28,372.72 289.77,371.28 290.30,369.75 C290.83,368.22 291.50,366.34 292.00,365.17 C292.50,364.00 292.87,362.73 293.30,362.73 Z" fill="url(#mg)" filter="url(#bl05)"/>
<path d="M293.30,363.10 L296.30,371.10 L290.30,371.10 Z" fill="#a0a0a0" opacity="0.75" filter="url(#bl1)"/>
<ellipse cx="294.39" cy="374.86" rx="1.77" ry="2.19" fill="#b4b4c0" opacity="0.6" filter="url(#bl1)"/>
<ellipse cx="297.10" cy="389.12" rx="1.47" ry="1.88" fill="#b4b4c0" opacity="0.6" filter="url(#bl1)"/>
<ellipse cx="294.11" cy="382.79" rx="2.01" ry="1.10" fill="#b4b4c0" opacity="0.6" filter="url(#bl1)"/>
<ellipse cx="295.80" cy="373.76" rx="1.72" ry="1.58" fill="#b4b4c0" opacity="0.6" filter="url(#bl1)"/>
<ellipse cx="293.62" cy="381.36" rx="4.75" ry="3.51" fill="#4224e0" filter="url(#bl1)"/>
<ellipse cx="295.40" cy="379.16" rx="2.4" ry="2.0" fill="#4a2ae0" opacity="0.85" filter="url(#bl1)"/>
<ellipse cx="292.32" cy="376.86" rx="2.6" ry="1.8" fill="#8a70f0" opacity="0.7" filter="url(#bl1)"/>
<ellipse cx="285.70" cy="391.60" rx="2.9" ry="2.6" fill="#3420e8" filter="url(#bl1)"/>
<ellipse cx="300.30" cy="392.10" rx="2.9" ry="2.6" fill="#3420e8" filter="url(#bl1)"/>
<ellipse cx="293.30" cy="396.70" rx="3" ry="1.5" fill="#7a60e0" opacity="0.5" filter="url(#bl1)"/>
<ellipse cx="289.30" cy="399.40" rx="1.8" ry="1.2" fill="#5038c8" opacity="0.6" filter="url(#bl1)"/>
<path d="M313.10,362.73 C313.53,362.73 313.90,364.00 314.40,365.17 C314.90,366.34 315.57,368.22 316.10,369.75 C316.63,371.28 317.12,372.72 317.60,374.33 C318.08,375.94 318.50,377.55 319.00,379.42 C319.50,381.28 320.10,383.49 320.60,385.52 C321.10,387.56 321.78,389.93 322.00,391.62 C322.22,393.32 322.55,394.58 321.90,395.70 C321.25,396.81 320.40,397.90 318.10,398.34 C315.80,398.78 310.40,398.78 308.10,398.34 C305.80,397.90 304.95,396.81 304.30,395.70 C303.65,394.58 303.98,393.32 304.20,391.62 C304.42,389.93 305.10,387.56 305.60,385.52 C306.10,383.49 306.70,381.28 307.20,379.42 C307.70,377.55 308.12,375.94 308.60,374.33 C309.08,372.72 309.57,371.28 310.10,369.75 C310.63,368.22 311.30,366.34 311.80,365.17 C312.30,364.00 312.67,362.73 313.10,362.73 Z" fill="url(#mg)" filter="url(#bl05)"/>
<path d="M313.10,363.10 L316.10,371.10 L310.10,371.10 Z" fill="#a0a0a0" opacity="0.75" filter="url(#bl1)"/>
<ellipse cx="311.78" cy="376.25" rx="1.73" ry="1.62" fill="#b4b4c0" opacity="0.6" filter="url(#bl1)"/>
<ellipse cx="315.64" cy="380.64" rx="2.12" ry="1.60" fill="#b4b4c0" opacity="0.6" filter="url(#bl1)"/>
<ellipse cx="310.51" cy="382.00" rx="1.30" ry="1.76" fill="#b4b4c0" opacity="0.6" filter="url(#bl1)"/>
<ellipse cx="316.14" cy="389.70" rx="1.24" ry="1.26" fill="#b4b4c0" opacity="0.6" filter="url(#bl1)"/>
<ellipse cx="313.77" cy="381.34" rx="4.37" ry="3.03" fill="#4224e0" filter="url(#bl1)"/>
<ellipse cx="312.35" cy="379.14" rx="2.4" ry="2.0" fill="#4a2ae0" opacity="0.85" filter="url(#bl1)"/>
<ellipse cx="314.68" cy="376.84" rx="2.6" ry="1.8" fill="#8a70f0" opacity="0.7" filter="url(#bl1)"/>
<ellipse cx="305.50" cy="391.60" rx="2.9" ry="2.6" fill="#3420e8" filter="url(#bl1)"/>
<ellipse cx="320.10" cy="392.10" rx="2.9" ry="2.6" fill="#3420e8" filter="url(#bl1)"/>
<ellipse cx="313.10" cy="396.70" rx="3" ry="1.5" fill="#7a60e0" opacity="0.5" filter="url(#bl1)"/>
<ellipse cx="309.10" cy="399.40" rx="1.8" ry="1.2" fill="#5038c8" opacity="0.6" filter="url(#bl1)"/>
<rect x="225.0" y="399.20" width="103.0" height="2.6" fill="#1a1a1a" opacity="0.75"/>
<rect x="226.4" y="412.5" width="102.6" height="40.3" fill="#202020" stroke="none" stroke-width="0" />
<rect x="226.10" y="412.5" width="3.6" height="34.25" fill="#484848" filter="url(#bl1)"/>
<rect x="246.35" y="412.5" width="3.6" height="34.25" fill="#484848" filter="url(#bl1)"/>
<rect x="265.30" y="412.5" width="3.6" height="34.25" fill="#484848" filter="url(#bl1)"/>
<rect x="284.15" y="412.5" width="3.6" height="34.25" fill="#484848" filter="url(#bl1)"/>
<rect x="302.70" y="412.5" width="3.6" height="34.25" fill="#484848" filter="url(#bl1)"/>
<rect x="325.70" y="412.5" width="3.6" height="34.25" fill="#484848" filter="url(#bl1)"/>
<path d="M238.70,415.52 C239.70,415.52 240.87,417.03 241.70,418.04 C242.53,419.05 243.12,420.14 243.70,421.57 C244.28,422.99 244.83,424.76 245.20,426.61 C245.57,428.45 245.72,430.63 245.90,432.65 C246.08,434.66 246.07,437.02 246.30,438.69 C246.53,440.37 247.03,441.38 247.30,442.73 C247.57,444.07 247.90,445.50 247.90,446.75 C247.90,448.01 248.17,449.44 247.30,450.28 C246.43,451.12 244.80,451.54 242.70,451.79 C240.60,452.04 236.80,452.04 234.70,451.79 C232.60,451.54 230.97,451.12 230.10,450.28 C229.23,449.44 229.50,448.01 229.50,446.75 C229.50,445.50 229.83,444.07 230.10,442.73 C230.37,441.38 230.87,440.37 231.10,438.69 C231.33,437.02 231.32,434.66 231.50,432.65 C231.68,430.63 231.83,428.45 232.20,426.61 C232.57,424.76 233.12,422.99 233.70,421.57 C234.28,420.14 234.87,419.05 235.70,418.04 C236.53,417.03 237.70,415.52 238.70,415.52 Z" fill="#6a36e6" filter="url(#bl05)"/>
<ellipse cx="238.70" cy="419.00" rx="2.6" ry="3.0" fill="#e8e0fb" opacity="0.85" filter="url(#bl1)"/>
<ellipse cx="238.95" cy="428.00" rx="5.4" ry="5.2" fill="#5222ee" opacity="0.95" filter="url(#bl1)"/>
<ellipse cx="243.65" cy="435.52" rx="1.77" ry="1.56" fill="#ece6fd" opacity="0.78" filter="url(#bl1)"/>
<ellipse cx="236.23" cy="435.18" rx="2.01" ry="1.70" fill="#ece6fd" opacity="0.78" filter="url(#bl1)"/>
<ellipse cx="238.63" cy="435.73" rx="2.44" ry="1.99" fill="#ece6fd" opacity="0.78" filter="url(#bl1)"/>
<ellipse cx="238.18" cy="434.41" rx="1.63" ry="1.90" fill="#ece6fd" opacity="0.78" filter="url(#bl1)"/>
<ellipse cx="233.66" cy="437.90" rx="2.17" ry="1.45" fill="#ece6fd" opacity="0.78" filter="url(#bl1)"/>
<ellipse cx="241.91" cy="434.11" rx="1.74" ry="1.56" fill="#ece6fd" opacity="0.78" filter="url(#bl1)"/>
<ellipse cx="234.90" cy="430.63" rx="1.3" ry="1.3" fill="#d8ccfa" opacity="0.8" filter="url(#bl1)"/>
<ellipse cx="236.60" cy="423.05" rx="1.3" ry="1.3" fill="#d8ccfa" opacity="0.8" filter="url(#bl1)"/>
<ellipse cx="235.08" cy="428.42" rx="1.3" ry="1.3" fill="#d8ccfa" opacity="0.8" filter="url(#bl1)"/>
<ellipse cx="238.70" cy="445.90" rx="8.6" ry="4.8" fill="#4c16ec" filter="url(#bl1)"/>
<ellipse cx="238.38" cy="443.50" rx="2.0" ry="1.4" fill="#9a78f0" opacity="0.6" filter="url(#bl1)"/>
<line x1="238.7" y1="412.5" x2="238.7" y2="416.0" stroke="#d0d0d0" stroke-width="0.7" />
<path d="M257.60,415.52 C258.60,415.52 259.77,417.03 260.60,418.04 C261.43,419.05 262.02,420.14 262.60,421.57 C263.18,422.99 263.73,424.76 264.10,426.61 C264.47,428.45 264.62,430.63 264.80,432.65 C264.98,434.66 264.97,437.02 265.20,438.69 C265.43,440.37 265.93,441.38 266.20,442.73 C266.47,444.07 266.80,445.50 266.80,446.75 C266.80,448.01 267.07,449.44 266.20,450.28 C265.33,451.12 263.70,451.54 261.60,451.79 C259.50,452.04 255.70,452.04 253.60,451.79 C251.50,451.54 249.87,451.12 249.00,450.28 C248.13,449.44 248.40,448.01 248.40,446.75 C248.40,445.50 248.73,444.07 249.00,442.73 C249.27,441.38 249.77,440.37 250.00,438.69 C250.23,437.02 250.22,434.66 250.40,432.65 C250.58,430.63 250.73,428.45 251.10,426.61 C251.47,424.76 252.02,422.99 252.60,421.57 C253.18,420.14 253.77,419.05 254.60,418.04 C255.43,417.03 256.60,415.52 257.60,415.52 Z" fill="#6a36e6" filter="url(#bl05)"/>
<ellipse cx="257.60" cy="419.00" rx="2.6" ry="3.0" fill="#e8e0fb" opacity="0.85" filter="url(#bl1)"/>
<ellipse cx="257.76" cy="428.00" rx="5.4" ry="5.2" fill="#5222ee" opacity="0.95" filter="url(#bl1)"/>
<ellipse cx="259.31" cy="438.44" rx="2.56" ry="1.75" fill="#ece6fd" opacity="0.78" filter="url(#bl1)"/>
<ellipse cx="254.29" cy="436.61" rx="1.78" ry="1.21" fill="#ece6fd" opacity="0.78" filter="url(#bl1)"/>
<ellipse cx="257.29" cy="437.93" rx="1.78" ry="1.42" fill="#ece6fd" opacity="0.78" filter="url(#bl1)"/>
<ellipse cx="255.90" cy="437.84" rx="2.12" ry="1.69" fill="#ece6fd" opacity="0.78" filter="url(#bl1)"/>
<ellipse cx="260.42" cy="436.16" rx="2.39" ry="1.92" fill="#ece6fd" opacity="0.78" filter="url(#bl1)"/>
<ellipse cx="253.06" cy="439.13" rx="2.32" ry="1.30" fill="#ece6fd" opacity="0.78" filter="url(#bl1)"/>
<ellipse cx="257.23" cy="428.38" rx="1.3" ry="1.3" fill="#d8ccfa" opacity="0.8" filter="url(#bl1)"/>
<ellipse cx="260.88" cy="425.64" rx="1.3" ry="1.3" fill="#d8ccfa" opacity="0.8" filter="url(#bl1)"/>
<ellipse cx="258.15" cy="431.17" rx="1.3" ry="1.3" fill="#d8ccfa" opacity="0.8" filter="url(#bl1)"/>
<ellipse cx="257.60" cy="445.90" rx="8.6" ry="4.8" fill="#4c16ec" filter="url(#bl1)"/>
<ellipse cx="259.38" cy="443.50" rx="2.0" ry="1.4" fill="#9a78f0" opacity="0.6" filter="url(#bl1)"/>
<line x1="257.6" y1="412.5" x2="257.6" y2="416.0" stroke="#d0d0d0" stroke-width="0.7" />
<path d="M276.60,415.52 C277.60,415.52 278.77,417.03 279.60,418.04 C280.43,419.05 281.02,420.14 281.60,421.57 C282.18,422.99 282.73,424.76 283.10,426.61 C283.47,428.45 283.62,430.63 283.80,432.65 C283.98,434.66 283.97,437.02 284.20,438.69 C284.43,440.37 284.93,441.38 285.20,442.73 C285.47,444.07 285.80,445.50 285.80,446.75 C285.80,448.01 286.07,449.44 285.20,450.28 C284.33,451.12 282.70,451.54 280.60,451.79 C278.50,452.04 274.70,452.04 272.60,451.79 C270.50,451.54 268.87,451.12 268.00,450.28 C267.13,449.44 267.40,448.01 267.40,446.75 C267.40,445.50 267.73,444.07 268.00,442.73 C268.27,441.38 268.77,440.37 269.00,438.69 C269.23,437.02 269.22,434.66 269.40,432.65 C269.58,430.63 269.73,428.45 270.10,426.61 C270.47,424.76 271.02,422.99 271.60,421.57 C272.18,420.14 272.77,419.05 273.60,418.04 C274.43,417.03 275.60,415.52 276.60,415.52 Z" fill="#6a36e6" filter="url(#bl05)"/>
<ellipse cx="276.60" cy="419.00" rx="2.6" ry="3.0" fill="#e8e0fb" opacity="0.85" filter="url(#bl1)"/>
<ellipse cx="277.13" cy="428.00" rx="5.4" ry="5.2" fill="#5222ee" opacity="0.95" filter="url(#bl1)"/>
<ellipse cx="276.20" cy="437.58" rx="1.80" ry="1.78" fill="#ece6fd" opacity="0.78" filter="url(#bl1)"/>
<ellipse cx="280.10" cy="437.53" rx="2.32" ry="1.37" fill="#ece6fd" opacity="0.78" filter="url(#bl1)"/>
<ellipse cx="281.00" cy="439.39" rx="2.58" ry="1.63" fill="#ece6fd" opacity="0.78" filter="url(#bl1)"/>
<ellipse cx="279.80" cy="435.76" rx="2.51" ry="1.88" fill="#ece6fd" opacity="0.78" filter="url(#bl1)"/>
<ellipse cx="274.93" cy="434.46" rx="2.04" ry="1.64" fill="#ece6fd" opacity="0.78" filter="url(#bl1)"/>
<ellipse cx="279.55" cy="436.68" rx="1.63" ry="1.85" fill="#ece6fd" opacity="0.78" filter="url(#bl1)"/>
<ellipse cx="273.11" cy="430.30" rx="1.3" ry="1.3" fill="#d8ccfa" opacity="0.8" filter="url(#bl1)"/>
<ellipse cx="273.98" cy="425.19" rx="1.3" ry="1.3" fill="#d8ccfa" opacity="0.8" filter="url(#bl1)"/>
<ellipse cx="278.90" cy="423.05" rx="1.3" ry="1.3" fill="#d8ccfa" opacity="0.8" filter="url(#bl1)"/>
<ellipse cx="276.60" cy="445.90" rx="8.6" ry="4.8" fill="#4c16ec" filter="url(#bl1)"/>
<ellipse cx="274.49" cy="443.50" rx="2.0" ry="1.4" fill="#9a78f0" opacity="0.6" filter="url(#bl1)"/>
<line x1="276.6" y1="412.5" x2="276.6" y2="416.0" stroke="#d0d0d0" stroke-width="0.7" />
<path d="M295.30,415.52 C296.30,415.52 297.47,417.03 298.30,418.04 C299.13,419.05 299.72,420.14 300.30,421.57 C300.88,422.99 301.43,424.76 301.80,426.61 C302.17,428.45 302.32,430.63 302.50,432.65 C302.68,434.66 302.67,437.02 302.90,438.69 C303.13,440.37 303.63,441.38 303.90,442.73 C304.17,444.07 304.50,445.50 304.50,446.75 C304.50,448.01 304.77,449.44 303.90,450.28 C303.03,451.12 301.40,451.54 299.30,451.79 C297.20,452.04 293.40,452.04 291.30,451.79 C289.20,451.54 287.57,451.12 286.70,450.28 C285.83,449.44 286.10,448.01 286.10,446.75 C286.10,445.50 286.43,444.07 286.70,442.73 C286.97,441.38 287.47,440.37 287.70,438.69 C287.93,437.02 287.92,434.66 288.10,432.65 C288.28,430.63 288.43,428.45 288.80,426.61 C289.17,424.76 289.72,422.99 290.30,421.57 C290.88,420.14 291.47,419.05 292.30,418.04 C293.13,417.03 294.30,415.52 295.30,415.52 Z" fill="#6a36e6" filter="url(#bl05)"/>
<ellipse cx="295.30" cy="419.00" rx="2.6" ry="3.0" fill="#e8e0fb" opacity="0.85" filter="url(#bl1)"/>
<ellipse cx="295.32" cy="428.00" rx="5.4" ry="5.2" fill="#5222ee" opacity="0.95" filter="url(#bl1)"/>
<ellipse cx="297.76" cy="438.62" rx="2.29" ry="1.96" fill="#ece6fd" opacity="0.78" filter="url(#bl1)"/>
<ellipse cx="295.22" cy="439.22" rx="1.69" ry="1.38" fill="#ece6fd" opacity="0.78" filter="url(#bl1)"/>
<ellipse cx="295.59" cy="435.60" rx="2.33" ry="1.71" fill="#ece6fd" opacity="0.78" filter="url(#bl1)"/>
<ellipse cx="295.55" cy="438.64" rx="2.16" ry="1.45" fill="#ece6fd" opacity="0.78" filter="url(#bl1)"/>
<ellipse cx="293.99" cy="438.65" rx="2.50" ry="1.37" fill="#ece6fd" opacity="0.78" filter="url(#bl1)"/>
<ellipse cx="299.16" cy="439.33" rx="2.12" ry="1.66" fill="#ece6fd" opacity="0.78" filter="url(#bl1)"/>
<ellipse cx="292.91" cy="427.39" rx="1.3" ry="1.3" fill="#d8ccfa" opacity="0.8" filter="url(#bl1)"/>
<ellipse cx="295.33" cy="428.16" rx="1.3" ry="1.3" fill="#d8ccfa" opacity="0.8" filter="url(#bl1)"/>
<ellipse cx="291.52" cy="432.16" rx="1.3" ry="1.3" fill="#d8ccfa" opacity="0.8" filter="url(#bl1)"/>
<ellipse cx="295.30" cy="445.90" rx="8.6" ry="4.8" fill="#4c16ec" filter="url(#bl1)"/>
<ellipse cx="295.40" cy="443.50" rx="2.0" ry="1.4" fill="#9a78f0" opacity="0.6" filter="url(#bl1)"/>
<line x1="295.3" y1="412.5" x2="295.3" y2="416.0" stroke="#d0d0d0" stroke-width="0.7" />
<path d="M313.70,415.52 C314.70,415.52 315.87,417.03 316.70,418.04 C317.53,419.05 318.12,420.14 318.70,421.57 C319.28,422.99 319.83,424.76 320.20,426.61 C320.57,428.45 320.72,430.63 320.90,432.65 C321.08,434.66 321.07,437.02 321.30,438.69 C321.53,440.37 322.03,441.38 322.30,442.73 C322.57,444.07 322.90,445.50 322.90,446.75 C322.90,448.01 323.17,449.44 322.30,450.28 C321.43,451.12 319.80,451.54 317.70,451.79 C315.60,452.04 311.80,452.04 309.70,451.79 C307.60,451.54 305.97,451.12 305.10,450.28 C304.23,449.44 304.50,448.01 304.50,446.75 C304.50,445.50 304.83,444.07 305.10,442.73 C305.37,441.38 305.87,440.37 306.10,438.69 C306.33,437.02 306.32,434.66 306.50,432.65 C306.68,430.63 306.83,428.45 307.20,426.61 C307.57,424.76 308.12,422.99 308.70,421.57 C309.28,420.14 309.87,419.05 310.70,418.04 C311.53,417.03 312.70,415.52 313.70,415.52 Z" fill="#6a36e6" filter="url(#bl05)"/>
<ellipse cx="313.70" cy="419.00" rx="2.6" ry="3.0" fill="#e8e0fb" opacity="0.85" filter="url(#bl1)"/>
<ellipse cx="313.58" cy="428.00" rx="5.4" ry="5.2" fill="#5222ee" opacity="0.95" filter="url(#bl1)"/>
<ellipse cx="317.01" cy="437.10" rx="2.09" ry="1.75" fill="#ece6fd" opacity="0.78" filter="url(#bl1)"/>
<ellipse cx="308.92" cy="436.96" rx="2.01" ry="1.97" fill="#ece6fd" opacity="0.78" filter="url(#bl1)"/>
<ellipse cx="318.36" cy="435.48" rx="2.07" ry="1.30" fill="#ece6fd" opacity="0.78" filter="url(#bl1)"/>
<ellipse cx="312.97" cy="438.49" rx="2.50" ry="1.58" fill="#ece6fd" opacity="0.78" filter="url(#bl1)"/>
<ellipse cx="311.69" cy="435.05" rx="2.22" ry="1.94" fill="#ece6fd" opacity="0.78" filter="url(#bl1)"/>
<ellipse cx="309.62" cy="438.29" rx="1.62" ry="1.36" fill="#ece6fd" opacity="0.78" filter="url(#bl1)"/>
<ellipse cx="311.52" cy="429.06" rx="1.3" ry="1.3" fill="#d8ccfa" opacity="0.8" filter="url(#bl1)"/>
<ellipse cx="312.28" cy="425.41" rx="1.3" ry="1.3" fill="#d8ccfa" opacity="0.8" filter="url(#bl1)"/>
<ellipse cx="314.66" cy="422.65" rx="1.3" ry="1.3" fill="#d8ccfa" opacity="0.8" filter="url(#bl1)"/>
<ellipse cx="313.70" cy="445.90" rx="8.6" ry="4.8" fill="#4c16ec" filter="url(#bl1)"/>
<ellipse cx="315.09" cy="443.50" rx="2.0" ry="1.4" fill="#9a78f0" opacity="0.6" filter="url(#bl1)"/>
<line x1="313.7" y1="412.5" x2="313.7" y2="416.0" stroke="#d0d0d0" stroke-width="0.7" />
<rect x="226.4" y="450.20" width="102.6" height="2.6" fill="#1a1a1a" opacity="0.75"/>
<rect x="227.0" y="461.7" width="101.4" height="39.6" fill="#202020" stroke="none" stroke-width="0" />
<rect x="226.70" y="461.7" width="3.6" height="33.66" fill="#484848" filter="url(#bl1)"/>
<rect x="246.40" y="461.7" width="3.6" height="33.66" fill="#484848" filter="url(#bl1)"/>
<rect x="265.60" y="461.7" width="3.6" height="33.66" fill="#484848" filter="url(#bl1)"/>
<rect x="285.00" y="461.7" width="3.6" height="33.66" fill="#484848" filter="url(#bl1)"/>
<rect x="303.95" y="461.7" width="3.6" height="33.66" fill="#484848" filter="url(#bl1)"/>
<rect x="325.10" y="461.7" width="3.6" height="33.66" fill="#484848" filter="url(#bl1)"/>
<path d="M238.80,464.27 C239.53,464.27 240.17,465.50 241.00,466.65 C241.83,467.80 243.03,468.98 243.80,471.20 C244.57,473.43 245.10,477.31 245.60,480.01 C246.10,482.72 246.47,485.38 246.80,487.44 C247.13,489.50 247.48,490.90 247.60,492.39 C247.72,493.88 248.13,495.28 247.50,496.35 C246.87,497.42 246.08,498.41 243.80,498.82 C241.52,499.24 236.08,499.24 233.80,498.82 C231.52,498.41 230.73,497.42 230.10,496.35 C229.47,495.28 229.88,493.88 230.00,492.39 C230.12,490.90 230.47,489.50 230.80,487.44 C231.13,485.38 231.50,482.72 232.00,480.01 C232.50,477.31 233.03,473.43 233.80,471.20 C234.57,468.98 235.77,467.80 236.60,466.65 C237.43,465.50 238.07,464.27 238.80,464.27 Z" fill="url(#mg2)" filter="url(#bl05)"/>
<path d="M238.80,463.70 L242.40,472.70 L235.20,472.70 Z" fill="#a0a0a0" opacity="0.6" filter="url(#bl1)"/>
<ellipse cx="237.29" cy="481.70" rx="3" ry="4" fill="#bcbcbc" opacity="0.5" filter="url(#bl1)"/>
<line x1="238.8" y1="461.7" x2="238.8" y2="464.7" stroke="#d0d0d0" stroke-width="0.7" />
<path d="M257.60,464.27 C258.33,464.27 258.97,465.50 259.80,466.65 C260.63,467.80 261.83,468.98 262.60,471.20 C263.37,473.43 263.90,477.31 264.40,480.01 C264.90,482.72 265.27,485.38 265.60,487.44 C265.93,489.50 266.28,490.90 266.40,492.39 C266.52,493.88 266.93,495.28 266.30,496.35 C265.67,497.42 264.88,498.41 262.60,498.82 C260.32,499.24 254.88,499.24 252.60,498.82 C250.32,498.41 249.53,497.42 248.90,496.35 C248.27,495.28 248.68,493.88 248.80,492.39 C248.92,490.90 249.27,489.50 249.60,487.44 C249.93,485.38 250.30,482.72 250.80,480.01 C251.30,477.31 251.83,473.43 252.60,471.20 C253.37,468.98 254.57,467.80 255.40,466.65 C256.23,465.50 256.87,464.27 257.60,464.27 Z" fill="url(#mg2)" filter="url(#bl05)"/>
<path d="M257.60,463.70 L261.20,472.70 L254.00,472.70 Z" fill="#a0a0a0" opacity="0.6" filter="url(#bl1)"/>
<ellipse cx="257.64" cy="481.70" rx="3" ry="4" fill="#bcbcbc" opacity="0.5" filter="url(#bl1)"/>
<line x1="257.6" y1="461.7" x2="257.6" y2="464.7" stroke="#d0d0d0" stroke-width="0.7" />
<path d="M277.20,464.27 C277.93,464.27 278.57,465.50 279.40,466.65 C280.23,467.80 281.43,468.98 282.20,471.20 C282.97,473.43 283.50,477.31 284.00,480.01 C284.50,482.72 284.87,485.38 285.20,487.44 C285.53,489.50 285.88,490.90 286.00,492.39 C286.12,493.88 286.53,495.28 285.90,496.35 C285.27,497.42 284.48,498.41 282.20,498.82 C279.92,499.24 274.48,499.24 272.20,498.82 C269.92,498.41 269.13,497.42 268.50,496.35 C267.87,495.28 268.28,493.88 268.40,492.39 C268.52,490.90 268.87,489.50 269.20,487.44 C269.53,485.38 269.90,482.72 270.40,480.01 C270.90,477.31 271.43,473.43 272.20,471.20 C272.97,468.98 274.17,467.80 275.00,466.65 C275.83,465.50 276.47,464.27 277.20,464.27 Z" fill="url(#mg2)" filter="url(#bl05)"/>
<path d="M277.20,463.70 L280.80,472.70 L273.60,472.70 Z" fill="#a0a0a0" opacity="0.6" filter="url(#bl1)"/>
<ellipse cx="276.20" cy="481.70" rx="3" ry="4" fill="#bcbcbc" opacity="0.5" filter="url(#bl1)"/>
<line x1="277.2" y1="461.7" x2="277.2" y2="464.7" stroke="#d0d0d0" stroke-width="0.7" />
<path d="M296.40,464.27 C297.13,464.27 297.77,465.50 298.60,466.65 C299.43,467.80 300.63,468.98 301.40,471.20 C302.17,473.43 302.70,477.31 303.20,480.01 C303.70,482.72 304.07,485.38 304.40,487.44 C304.73,489.50 305.08,490.90 305.20,492.39 C305.32,493.88 305.73,495.28 305.10,496.35 C304.47,497.42 303.68,498.41 301.40,498.82 C299.12,499.24 293.68,499.24 291.40,498.82 C289.12,498.41 288.33,497.42 287.70,496.35 C287.07,495.28 287.48,493.88 287.60,492.39 C287.72,490.90 288.07,489.50 288.40,487.44 C288.73,485.38 289.10,482.72 289.60,480.01 C290.10,477.31 290.63,473.43 291.40,471.20 C292.17,468.98 293.37,467.80 294.20,466.65 C295.03,465.50 295.67,464.27 296.40,464.27 Z" fill="url(#mg2)" filter="url(#bl05)"/>
<path d="M296.40,463.70 L300.00,472.70 L292.80,472.70 Z" fill="#a0a0a0" opacity="0.6" filter="url(#bl1)"/>
<ellipse cx="295.19" cy="481.70" rx="3" ry="4" fill="#bcbcbc" opacity="0.5" filter="url(#bl1)"/>
<line x1="296.4" y1="461.7" x2="296.4" y2="464.7" stroke="#d0d0d0" stroke-width="0.7" />
<path d="M315.10,464.27 C315.83,464.27 316.47,465.50 317.30,466.65 C318.13,467.80 319.33,468.98 320.10,471.20 C320.87,473.43 321.40,477.31 321.90,480.01 C322.40,482.72 322.77,485.38 323.10,487.44 C323.43,489.50 323.78,490.90 323.90,492.39 C324.02,493.88 324.43,495.28 323.80,496.35 C323.17,497.42 322.38,498.41 320.10,498.82 C317.82,499.24 312.38,499.24 310.10,498.82 C307.82,498.41 307.03,497.42 306.40,496.35 C305.77,495.28 306.18,493.88 306.30,492.39 C306.42,490.90 306.77,489.50 307.10,487.44 C307.43,485.38 307.80,482.72 308.30,480.01 C308.80,477.31 309.33,473.43 310.10,471.20 C310.87,468.98 312.07,467.80 312.90,466.65 C313.73,465.50 314.37,464.27 315.10,464.27 Z" fill="url(#mg2)" filter="url(#bl05)"/>
<path d="M315.10,463.70 L318.70,472.70 L311.50,472.70 Z" fill="#a0a0a0" opacity="0.6" filter="url(#bl1)"/>
<ellipse cx="315.22" cy="481.70" rx="3" ry="4" fill="#bcbcbc" opacity="0.5" filter="url(#bl1)"/>
<line x1="315.1" y1="461.7" x2="315.1" y2="464.7" stroke="#d0d0d0" stroke-width="0.7" />
<rect x="227.0" y="498.70" width="101.4" height="2.6" fill="#1a1a1a" opacity="0.75"/>
<circle cx="233.5" cy="446.0" r="2.0" fill="#38a0ff" filter="url(#bl1)"/>
<circle cx="265.5" cy="445.5" r="2.0" fill="#38a0ff" filter="url(#bl1)"/>
<circle cx="297.5" cy="445.8" r="2.0" fill="#38a0ff" filter="url(#bl1)"/>
<circle cx="307.5" cy="446.0" r="2.0" fill="#38a0ff" filter="url(#bl1)"/>
<circle cx="322.5" cy="445.0" r="2.0" fill="#38a0ff" filter="url(#bl1)"/>
<circle cx="311.5" cy="396.5" r="1.5" fill="#38a0ff" filter="url(#bl1)"/>
<text x="0" y="0" font-size="10" font-weight="bold" fill="#000" text-anchor="start" textLength="34.0" lengthAdjust="spacingAndGlyphs" stroke="#000" stroke-width="0.28" transform="translate(334.6,315.4) rotate(90)">Vehicle</text>
<text x="0" y="0" font-size="10" font-weight="bold" fill="#000" text-anchor="start" textLength="40.2" lengthAdjust="spacingAndGlyphs" stroke="#000" stroke-width="0.28" transform="translate(334.6,361.8) rotate(90)">AMG 424</text>
<text x="0" y="0" font-size="10" font-weight="bold" fill="#000" text-anchor="start" textLength="33.8" lengthAdjust="spacingAndGlyphs" stroke="#000" stroke-width="0.28" transform="translate(334.6,415.8) rotate(90)">Vehicle</text>
<text x="0" y="0" font-size="10" font-weight="bold" fill="#000" text-anchor="start" textLength="41.5" lengthAdjust="spacingAndGlyphs" stroke="#000" stroke-width="0.28" transform="translate(334.6,461.5) rotate(90)">AMG 424</text>
<text x="0" y="0" font-size="11.2" font-weight="bold" fill="#000" text-anchor="start" textLength="15.4" lengthAdjust="spacingAndGlyphs" stroke="#000" stroke-width="0.28" transform="translate(215.0,366.9) rotate(-90)">D7</text>
<text x="0" y="0" font-size="11.0" font-weight="bold" fill="#000" text-anchor="start" textLength="22.6" lengthAdjust="spacingAndGlyphs" stroke="#000" stroke-width="0.28" transform="translate(215.3,469.4) rotate(-90)">D18</text>
<line x1="220.0" y1="335.5" x2="220.0" y2="375.7" stroke="#000" stroke-width="1.5" />
<line x1="222.4" y1="437.3" x2="222.4" y2="477.8" stroke="#000" stroke-width="1.5" />
<text x="423.3" y="321.0" font-size="13.2" font-weight="bold" fill="#000" text-anchor="start" textLength="76.8" lengthAdjust="spacingAndGlyphs" stroke="#000" stroke-width="0.28" >CD8 T Cells</text>
<text x="0" y="0" font-size="11" font-weight="bold" fill="#000" text-anchor="start" textLength="20.8" lengthAdjust="spacingAndGlyphs" stroke="#000" stroke-width="0.28" transform="translate(374.6,402.0) rotate(-90)">MFI</text>
<line x1="403.8" y1="336.6" x2="403.8" y2="452.2" stroke="#222" stroke-width="1.1" />
<line x1="403.3" y1="451.7" x2="515.5" y2="451.7" stroke="#222" stroke-width="1.1" />
<line x1="401.0" y1="451.8" x2="403.8" y2="451.8" stroke="#222" stroke-width="1" />
<text x="400.6" y="455.0" font-size="9.2" font-weight="bold" fill="#111" text-anchor="end" stroke="#111" stroke-width="0.28" >0</text>
<line x1="401.0" y1="432.684" x2="403.8" y2="432.684" stroke="#222" stroke-width="1" />
<text x="400.6" y="435.884" font-size="9.2" font-weight="bold" fill="#111" text-anchor="end" stroke="#111" stroke-width="0.28" >200</text>
<line x1="401.0" y1="413.568" x2="403.8" y2="413.568" stroke="#222" stroke-width="1" />
<text x="400.6" y="416.768" font-size="9.2" font-weight="bold" fill="#111" text-anchor="end" stroke="#111" stroke-width="0.28" >400</text>
<line x1="401.0" y1="394.452" x2="403.8" y2="394.452" stroke="#222" stroke-width="1" />
<text x="400.6" y="397.652" font-size="9.2" font-weight="bold" fill="#111" text-anchor="end" stroke="#111" stroke-width="0.28" >600</text>
<line x1="401.0" y1="375.336" x2="403.8" y2="375.336" stroke="#222" stroke-width="1" />
<text x="400.6" y="378.536" font-size="9.2" font-weight="bold" fill="#111" text-anchor="end" stroke="#111" stroke-width="0.28" >800</text>
<line x1="401.0" y1="356.22" x2="403.8" y2="356.22" stroke="#222" stroke-width="1" />
<text x="400.6" y="359.42" font-size="9.2" font-weight="bold" fill="#111" text-anchor="end" stroke="#111" stroke-width="0.28" >1,000</text>
<line x1="401.0" y1="337.10400000000004" x2="403.8" y2="337.10400000000004" stroke="#222" stroke-width="1" />
<text x="400.6" y="340.30400000000003" font-size="9.2" font-weight="bold" fill="#111" text-anchor="end" stroke="#111" stroke-width="0.28" >1,200</text>
<line x1="421.9" y1="451.7" x2="421.9" y2="454.3" stroke="#222" stroke-width="1" />
<line x1="461.8" y1="451.7" x2="461.8" y2="454.3" stroke="#222" stroke-width="1" />
<line x1="501.5" y1="451.7" x2="501.5" y2="454.3" stroke="#222" stroke-width="1" />
<line x1="414.8" y1="428.0" x2="414.8" y2="426.0" stroke="#4a4a4a" stroke-width="0.9" />
<line x1="412.6" y1="426.0" x2="417.0" y2="426.0" stroke="#4a4a4a" stroke-width="0.9" />
<rect x="410.0" y="428.0" width="9.600000000000023" height="23.69999999999999" fill="#626262" stroke="#4a4a4a" stroke-width="0.6" />
<line x1="429.75" y1="418.1" x2="429.75" y2="405.4" stroke="#067006" stroke-width="0.9" />
<line x1="427.55" y1="405.4" x2="431.95" y2="405.4" stroke="#067006" stroke-width="0.9" />
<rect x="424.9" y="418.1" width="9.700000000000045" height="33.599999999999966" fill="#0c840c" stroke="#067006" stroke-width="0.6" />
<line x1="454.65" y1="417.9" x2="454.65" y2="415.2" stroke="#4a4a4a" stroke-width="0.9" />
<line x1="452.45" y1="415.2" x2="456.84999999999997" y2="415.2" stroke="#4a4a4a" stroke-width="0.9" />
<rect x="449.7" y="417.9" width="9.900000000000034" height="33.80000000000001" fill="#626262" stroke="#4a4a4a" stroke-width="0.6" />
<line x1="469.4" y1="376.3" x2="469.4" y2="352.4" stroke="#067006" stroke-width="0.9" />
<line x1="467.2" y1="352.4" x2="471.59999999999997" y2="352.4" stroke="#067006" stroke-width="0.9" />
<rect x="464.3" y="376.3" width="10.199999999999989" height="75.39999999999998" fill="#0c840c" stroke="#067006" stroke-width="0.6" />
<line x1="494.45" y1="427.9" x2="494.45" y2="426.2" stroke="#4a4a4a" stroke-width="0.9" />
<line x1="492.25" y1="426.2" x2="496.65" y2="426.2" stroke="#4a4a4a" stroke-width="0.9" />
<rect x="489.5" y="427.9" width="9.899999999999977" height="23.80000000000001" fill="#626262" stroke="#4a4a4a" stroke-width="0.6" />
<line x1="509.4" y1="390.7" x2="509.4" y2="383.6" stroke="#067006" stroke-width="0.9" />
<line x1="507.2" y1="383.6" x2="511.59999999999997" y2="383.6" stroke="#067006" stroke-width="0.9" />
<rect x="504.3" y="390.7" width="10.199999999999989" height="61.0" fill="#0c840c" stroke="#067006" stroke-width="0.6" />
<line x1="451.1" y1="344.6" x2="472.4" y2="344.6" stroke="#000" stroke-width="1.3" />
<line x1="489.4" y1="372.9" x2="511.0" y2="372.9" stroke="#000" stroke-width="1.3" />
<text x="461.6" y="341.0" font-size="10" font-weight="bold" fill="#000" text-anchor="middle" stroke="#000" stroke-width="0.28" >*</text>
<text x="500.0" y="370.5" font-size="10" font-weight="bold" fill="#000" text-anchor="middle" stroke="#000" stroke-width="0.28" >**</text>
<text x="0" y="0" font-size="10.6" font-weight="bold" fill="#000" text-anchor="end" textLength="25.0" lengthAdjust="spacingAndGlyphs" stroke="#000" stroke-width="0.28" transform="translate(426.0,461.6) rotate(-45)">CD25</text>
<text x="0" y="0" font-size="10.6" font-weight="bold" fill="#000" text-anchor="end" textLength="25.0" lengthAdjust="spacingAndGlyphs" stroke="#000" stroke-width="0.28" transform="translate(465.6,461.6) rotate(-45)">CD69</text>
<text x="0" y="0" font-size="10.6" font-weight="bold" fill="#000" text-anchor="end" textLength="17.6" lengthAdjust="spacingAndGlyphs" stroke="#000" stroke-width="0.28" transform="translate(500.6,462.4) rotate(-45)">PD1</text>
<rect x="403.2" y="490.8" width="10.6" height="8.6" fill="#626262" stroke="#555" stroke-width="0.6" />
<rect x="403.2" y="507.4" width="10.6" height="8.2" fill="#0c840c" stroke="#0a7a0a" stroke-width="0.6" />
<text x="419.2" y="499.4" font-size="10.3" font-weight="bold" fill="#000" text-anchor="start" textLength="33.4" lengthAdjust="spacingAndGlyphs" stroke="#000" stroke-width="0.28" >Vehicle</text>
<text x="419.2" y="515.0" font-size="10.3" font-weight="bold" fill="#000" text-anchor="start" textLength="91.8" lengthAdjust="spacingAndGlyphs" stroke="#000" stroke-width="0.28" >AMG 424 10 mg/kg</text>
</svg>
</body></html>
